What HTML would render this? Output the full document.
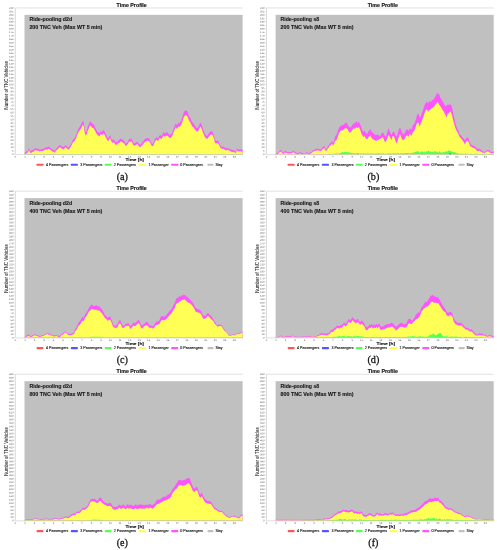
<!DOCTYPE html>
<html lang="en"><head><meta charset="utf-8"><title>Time Profile</title>
<style>html,body{margin:0;padding:0;background:#fff}svg{display:block}</style></head><body>
<svg width="497" height="550" viewBox="0 0 497 550">
<defs><filter id="soft" x="0" y="0" width="497" height="550" filterUnits="userSpaceOnUse"><feGaussianBlur stdDeviation="0.35"/></filter></defs>
<rect x="0" y="0" width="497" height="550" fill="#ffffff"/>
<g filter="url(#soft)">
<g>
<text x="131.70" y="6.50" font-family="Liberation Sans, sans-serif" font-size="5.2" font-weight="bold" fill="#1a1a1a" stroke="#1a1a1a" stroke-width="0.18" text-anchor="middle" textLength="30.2" lengthAdjust="spacingAndGlyphs">Time Profile</text>
<path d="M15.30,154.25 V7.95" fill="none" stroke="#cfcfcf" stroke-width="0.8"/>
<path d="M15.30,7.95 H242.60" fill="none" stroke="#dadada" stroke-width="0.8"/>
<path d="M15.30,154.55 H242.60" fill="none" stroke="#d0d0d0" stroke-width="0.7"/>
<rect x="24.50" y="14.85" width="218.10" height="139.40" fill="#c0c0c0"/>
<path d="M24.50,154.25 L24.59,153.04 L25.31,152.48 L26.04,151.83 L26.76,151.30 L27.49,151.23 L28.27,149.69 L29.06,148.21 L29.66,149.88 L30.27,151.23 L30.87,150.62 L31.47,150.61 L32.08,150.39 L32.68,149.83 L33.29,150.03 L33.89,149.18 L34.49,148.83 L35.10,148.24 L35.70,148.21 L36.30,148.73 L36.91,148.44 L37.51,148.93 L38.12,148.82 L38.72,148.96 L39.32,149.40 L39.93,149.66 L40.53,149.24 L41.14,149.50 L41.74,149.18 L42.34,148.67 L42.95,149.02 L43.55,148.69 L44.15,148.21 L44.76,148.30 L45.36,147.74 L45.97,147.00 L46.57,147.27 L47.17,146.92 L47.78,147.61 L48.38,146.53 L48.99,146.40 L49.59,147.27 L50.19,147.91 L50.80,148.21 L51.40,148.41 L52.00,149.51 L52.61,149.42 L53.21,150.05 L53.82,149.87 L54.42,150.63 L55.02,150.39 L55.63,149.17 L56.23,148.82 L56.84,148.00 L57.44,147.12 L58.04,147.00 L58.65,145.78 L59.25,145.49 L59.86,144.83 L60.46,145.69 L61.06,145.88 L61.67,146.40 L62.27,146.81 L62.87,146.80 L63.48,147.00 L64.08,146.59 L64.69,145.70 L65.29,145.19 L65.89,145.53 L66.50,146.32 L67.10,146.40 L67.71,146.76 L68.31,147.53 L68.91,147.61 L69.52,146.28 L70.12,145.41 L70.72,144.59 L71.33,143.44 L71.93,142.12 L72.54,140.36 L73.14,139.46 L73.74,138.95 L74.35,138.55 L75.00,137.34 L75.60,135.98 L76.21,134.93 L76.81,133.01 L77.42,131.30 L78.02,129.82 L78.62,128.28 L79.23,127.66 L79.83,126.47 L80.43,125.31 L81.04,124.66 L81.64,123.39 L82.25,121.64 L82.85,120.68 L83.70,122.25 L84.66,128.89 L85.63,132.27 L86.47,131.30 L87.08,128.97 L87.68,127.08 L88.29,125.71 L88.89,124.06 L89.49,122.50 L90.10,121.40 L90.70,121.64 L91.30,122.25 L91.91,123.38 L92.51,124.06 L93.12,123.95 L93.72,124.66 L94.32,125.59 L94.93,127.08 L95.53,128.37 L96.14,129.49 L96.74,130.47 L97.34,131.54 L97.95,132.20 L98.55,132.27 L99.15,132.93 L99.76,133.11 L100.36,131.68 L100.97,130.70 L101.57,131.64 L102.17,131.91 L102.78,130.73 L103.38,130.10 L103.99,130.58 L104.59,131.54 L105.19,132.78 L105.80,134.32 L106.40,135.11 L107.00,136.74 L107.61,137.93 L108.21,138.55 L108.82,137.18 L109.42,136.13 L110.27,134.93 L111.23,138.55 L111.84,139.59 L112.44,140.36 L113.04,139.48 L113.65,139.52 L114.25,140.25 L114.86,140.96 L115.46,141.89 L116.06,142.17 L116.67,142.30 L117.27,141.93 L117.87,140.68 L118.48,140.36 L119.08,139.91 L119.69,139.76 L120.29,138.82 L120.89,138.55 L121.50,139.15 L122.10,139.15 L122.71,139.46 L123.31,140.36 L123.91,140.70 L124.52,141.57 L125.12,142.62 L125.72,143.98 L126.33,142.91 L126.93,142.78 L127.54,142.34 L128.14,140.96 L128.74,139.72 L129.35,138.79 L130.00,139.15 L130.60,138.40 L131.21,138.55 L131.81,139.81 L132.42,140.36 L133.02,142.04 L133.62,142.78 L134.23,143.37 L134.83,143.38 L135.43,143.11 L136.04,142.17 L136.64,142.14 L137.25,141.57 L137.85,142.55 L138.45,143.38 L139.06,143.88 L139.66,144.59 L140.27,144.87 L140.87,144.35 L141.47,143.48 L142.08,142.78 L142.68,141.73 L143.29,141.57 L143.89,140.20 L144.49,139.76 L145.10,138.74 L145.70,138.55 L146.30,138.55 L146.91,138.31 L147.51,137.88 L148.12,137.95 L148.72,138.62 L149.32,138.55 L149.93,140.14 L150.53,140.96 L151.14,142.60 L151.74,143.38 L152.34,143.75 L152.95,143.98 L153.55,142.32 L154.15,140.96 L154.76,139.35 L155.36,138.55 L155.97,137.65 L156.57,136.74 L157.17,137.70 L157.78,138.55 L158.38,137.82 L158.99,136.13 L159.59,135.40 L160.19,134.93 L160.80,135.31 L161.40,136.13 L162.00,135.23 L162.61,133.72 L163.21,132.62 L163.82,132.27 L164.42,133.22 L165.02,133.72 L165.63,132.94 L166.23,132.51 L166.84,132.62 L167.44,132.27 L168.04,133.30 L168.65,133.72 L169.25,134.65 L169.86,134.93 L170.46,134.41 L171.06,134.32 L171.67,133.57 L172.27,132.51 L172.87,130.75 L173.48,128.89 L174.08,127.57 L174.69,125.87 L175.29,124.27 L175.89,123.45 L176.50,124.49 L177.10,125.26 L177.71,123.92 L178.31,122.85 L178.91,122.70 L179.52,123.45 L180.12,122.15 L180.72,121.04 L181.33,120.30 L181.93,118.62 L182.54,116.43 L183.14,114.39 L183.74,112.45 L184.35,111.38 L185.00,110.53 L185.60,110.75 L186.21,110.17 L186.81,111.03 L187.42,111.38 L188.02,113.58 L188.62,115.00 L189.23,116.59 L189.83,117.41 L190.43,118.37 L191.04,119.83 L191.64,121.30 L192.25,122.25 L192.85,122.60 L193.45,123.45 L194.06,124.38 L194.66,125.26 L195.27,125.94 L195.87,127.08 L196.47,127.73 L197.08,128.28 L197.68,127.61 L198.29,127.08 L198.89,126.00 L199.49,124.06 L200.10,123.32 L200.70,122.61 L201.30,124.02 L201.91,125.87 L202.51,127.73 L203.12,129.49 L203.72,131.01 L204.32,132.51 L204.93,133.61 L205.53,134.93 L206.14,135.29 L206.74,136.13 L207.34,135.58 L207.95,134.93 L208.55,133.70 L209.15,133.11 L209.76,132.30 L210.36,131.54 L210.97,131.17 L211.57,131.06 L212.17,131.73 L212.78,131.91 L213.38,134.08 L213.99,136.13 L214.59,138.61 L215.19,140.36 L215.80,140.82 L216.40,140.96 L217.00,140.73 L217.61,140.36 L218.21,140.92 L218.82,142.17 L219.42,143.32 L220.02,145.19 L220.63,145.49 L221.23,146.40 L221.84,146.71 L222.44,146.76 L223.04,147.08 L223.65,146.40 L224.25,146.96 L224.86,147.61 L225.46,148.00 L226.06,148.21 L226.67,148.35 L227.27,147.61 L227.87,148.29 L228.48,148.21 L229.08,148.75 L229.69,148.82 L230.29,149.19 L230.89,149.42 L231.50,149.40 L232.10,150.02 L232.71,150.29 L233.31,149.66 L233.91,150.10 L234.52,150.63 L235.12,151.28 L235.72,151.23 L236.33,150.14 L236.93,148.21 L237.54,149.31 L238.14,149.42 L238.74,149.07 L239.35,149.66 L239.95,149.39 L240.56,149.18 L241.16,149.74 L241.76,149.42 L242.60,149.42 L242.60,149.42 L242.60,154.25Z" fill="#ff55ff"/>
<path d="M24.50,154.25 L24.59,154.05 L25.31,153.92 L26.04,153.62 L26.76,153.22 L27.49,153.06 L28.27,151.61 L29.06,150.26 L29.66,151.66 L30.27,153.06 L30.87,152.85 L31.47,152.65 L32.08,152.28 L32.68,151.72 L33.29,152.07 L33.89,151.16 L34.49,150.59 L35.10,150.16 L35.70,150.26 L36.30,150.73 L36.91,150.59 L37.51,150.55 L38.12,150.82 L38.72,151.07 L39.32,151.22 L39.93,151.60 L40.53,151.10 L41.14,151.08 L41.74,151.16 L42.34,150.94 L42.95,150.96 L43.55,150.37 L44.15,150.26 L44.76,149.96 L45.36,149.50 L45.97,149.15 L46.57,149.63 L47.17,149.28 L47.78,149.71 L48.38,148.98 L48.99,148.59 L49.59,149.27 L50.19,149.83 L50.80,150.26 L51.40,150.41 L52.00,151.19 L52.61,151.38 L53.21,151.93 L53.82,151.65 L54.42,152.50 L55.02,152.45 L55.63,151.28 L56.23,150.82 L56.84,150.04 L57.44,149.16 L58.04,149.15 L58.65,147.90 L59.25,147.83 L59.86,147.14 L60.46,147.58 L61.06,148.12 L61.67,148.59 L62.27,149.02 L62.87,148.86 L63.48,149.15 L64.08,148.95 L64.69,147.66 L65.29,147.47 L65.89,147.47 L66.50,148.20 L67.10,148.59 L67.71,149.27 L68.31,149.37 L68.91,149.71 L69.52,148.84 L70.12,147.46 L70.72,146.91 L71.33,145.54 L71.93,144.77 L72.54,143.00 L73.14,142.00 L73.74,141.76 L74.35,141.33 L75.00,140.21 L75.60,138.95 L76.21,137.98 L76.81,135.94 L77.42,134.62 L78.02,133.40 L78.62,131.83 L79.23,131.14 L79.83,130.16 L80.43,129.24 L81.04,128.48 L81.64,127.46 L82.25,125.69 L82.85,124.79 L83.70,126.25 L84.66,132.39 L85.63,135.52 L86.47,134.62 L87.08,132.88 L87.68,130.71 L88.29,129.64 L88.89,127.92 L89.49,126.39 L90.10,125.46 L90.70,126.03 L91.30,126.25 L91.91,127.38 L92.51,127.92 L93.12,127.65 L93.72,128.48 L94.32,129.38 L94.93,130.71 L95.53,131.82 L96.14,132.95 L96.74,133.96 L97.34,134.85 L97.95,135.67 L98.55,135.52 L99.15,136.29 L99.76,136.30 L100.36,134.83 L100.97,134.07 L101.57,134.56 L102.17,135.18 L102.78,134.28 L103.38,133.51 L103.99,134.04 L104.59,134.85 L105.19,135.86 L105.80,137.42 L106.40,138.23 L107.00,139.65 L107.61,140.56 L108.21,141.33 L108.82,140.12 L109.42,139.09 L110.27,137.98 L111.23,141.33 L111.84,141.90 L112.44,143.00 L113.04,142.15 L113.65,142.22 L114.25,142.79 L114.86,143.56 L115.46,144.63 L116.06,144.68 L116.67,144.64 L117.27,144.46 L117.87,143.27 L118.48,143.00 L119.08,142.92 L119.69,142.44 L120.29,142.00 L120.89,141.33 L121.50,141.74 L122.10,141.89 L122.71,142.58 L123.31,143.00 L123.91,143.30 L124.52,144.12 L125.12,145.09 L125.72,146.35 L126.33,145.27 L126.93,145.24 L127.54,144.39 L128.14,143.56 L128.74,142.13 L129.35,141.55 L130.00,141.89 L130.60,141.40 L131.21,141.33 L131.81,142.05 L132.42,143.00 L133.02,144.65 L133.62,145.24 L134.23,145.47 L134.83,145.80 L135.43,145.36 L136.04,144.68 L136.64,144.48 L137.25,144.12 L137.85,144.79 L138.45,145.80 L139.06,145.96 L139.66,146.91 L140.27,147.31 L140.87,146.69 L141.47,145.69 L142.08,145.24 L142.68,144.68 L143.29,144.12 L143.89,143.05 L144.49,142.44 L145.10,141.97 L145.70,141.33 L146.30,141.24 L146.91,141.10 L147.51,140.57 L148.12,140.77 L148.72,141.23 L149.32,141.33 L149.93,142.53 L150.53,143.56 L151.14,144.65 L151.74,145.80 L152.34,146.07 L152.95,146.35 L153.55,145.16 L154.15,143.56 L154.76,142.16 L155.36,141.33 L155.97,140.33 L156.57,139.65 L157.17,140.22 L157.78,141.33 L158.38,140.80 L158.99,139.09 L159.59,138.29 L160.19,137.98 L160.80,138.70 L161.40,139.09 L162.00,138.34 L162.61,136.86 L163.21,135.89 L163.82,135.52 L164.42,136.49 L165.02,136.86 L165.63,136.31 L166.23,135.74 L166.84,135.63 L167.44,135.52 L168.04,136.48 L168.65,136.86 L169.25,137.76 L169.86,137.98 L170.46,137.84 L171.06,137.42 L171.67,136.74 L172.27,135.74 L172.87,134.16 L173.48,132.39 L174.08,131.22 L174.69,129.60 L175.29,128.31 L175.89,127.36 L176.50,128.43 L177.10,129.04 L177.71,127.74 L178.31,126.80 L178.91,126.52 L179.52,127.36 L180.12,125.98 L180.72,125.13 L181.33,124.29 L181.93,122.89 L182.54,121.03 L183.14,118.98 L183.74,117.24 L184.35,116.19 L185.00,115.41 L185.60,115.41 L186.21,115.07 L186.81,115.97 L187.42,116.19 L188.02,118.05 L188.62,119.54 L189.23,120.97 L189.83,121.78 L190.43,122.52 L191.04,124.01 L191.64,125.26 L192.25,126.25 L192.85,126.98 L193.45,127.36 L194.06,128.13 L194.66,129.04 L195.27,129.64 L195.87,130.71 L196.47,131.32 L197.08,131.83 L197.68,131.26 L198.29,130.71 L198.89,129.58 L199.49,127.92 L200.10,127.19 L200.70,126.58 L201.30,128.26 L201.91,129.60 L202.51,131.43 L203.12,132.95 L203.72,134.20 L204.32,135.74 L204.93,137.00 L205.53,137.98 L206.14,138.07 L206.74,139.09 L207.34,138.70 L207.95,137.98 L208.55,136.98 L209.15,136.30 L209.76,135.67 L210.36,134.85 L210.97,134.72 L211.57,134.40 L212.17,134.67 L212.78,135.18 L213.38,136.95 L213.99,139.09 L214.59,141.33 L215.19,143.00 L215.80,143.53 L216.40,143.56 L217.00,143.16 L217.61,143.00 L218.21,143.72 L218.82,144.68 L219.42,145.57 L220.02,147.47 L220.63,147.65 L221.23,148.59 L221.84,148.60 L222.44,148.92 L223.04,148.96 L223.65,148.59 L224.25,149.37 L224.86,149.71 L225.46,150.36 L226.06,150.26 L226.67,150.48 L227.27,149.71 L227.87,149.98 L228.48,150.26 L229.08,150.47 L229.69,150.82 L230.29,151.03 L230.89,151.38 L231.50,151.76 L232.10,151.94 L232.71,152.13 L233.31,151.60 L233.91,151.89 L234.52,152.50 L235.12,152.79 L235.72,153.06 L236.33,151.84 L236.93,150.26 L237.54,150.97 L238.14,151.38 L238.74,151.43 L239.35,151.60 L239.95,151.14 L240.56,151.16 L241.16,151.77 L241.76,151.38 L242.60,151.38 L242.60,151.38 L242.60,154.25Z" fill="#ffff55"/>
<path d="M24.50,154.25 L24.60,154.05 L242.60,154.05 L242.60,154.25Z" fill="#55ff55" opacity="0.8"/>
<text x="29.40" y="21.35" font-family="Liberation Sans, sans-serif" font-size="5.3" font-weight="bold" fill="#1a1a1a" stroke="#1a1a1a" stroke-width="0.14" textLength="42.8" lengthAdjust="spacingAndGlyphs">Ride-pooling d2d</text>
<text x="29.40" y="29.45" font-family="Liberation Sans, sans-serif" font-size="5.3" font-weight="bold" fill="#1a1a1a" stroke="#1a1a1a" stroke-width="0.14" textLength="73" lengthAdjust="spacingAndGlyphs">200 TNC Veh (Max WT 5 min)</text>
<g font-family="Liberation Sans, sans-serif" font-size="2.3" fill="#555" text-anchor="end">
<text transform="translate(13.50,155.05) rotate(0.03) scale(1.2,1)">0</text>
<text transform="translate(13.50,151.56) rotate(0.03) scale(1.2,1)">5</text>
<text transform="translate(13.50,148.08) rotate(0.03) scale(1.2,1)">10</text>
<text transform="translate(13.50,144.59) rotate(0.03) scale(1.2,1)">15</text>
<text transform="translate(13.50,141.11) rotate(0.03) scale(1.2,1)">20</text>
<text transform="translate(13.50,137.62) rotate(0.03) scale(1.2,1)">25</text>
<text transform="translate(13.50,134.14) rotate(0.03) scale(1.2,1)">30</text>
<text transform="translate(13.50,130.66) rotate(0.03) scale(1.2,1)">35</text>
<text transform="translate(13.50,127.17) rotate(0.03) scale(1.2,1)">40</text>
<text transform="translate(13.50,123.68) rotate(0.03) scale(1.2,1)">45</text>
<text transform="translate(13.50,120.20) rotate(0.03) scale(1.2,1)">50</text>
<text transform="translate(13.50,116.71) rotate(0.03) scale(1.2,1)">55</text>
<text transform="translate(13.50,113.23) rotate(0.03) scale(1.2,1)">60</text>
<text transform="translate(13.50,109.74) rotate(0.03) scale(1.2,1)">65</text>
<text transform="translate(13.50,106.26) rotate(0.03) scale(1.2,1)">70</text>
<text transform="translate(13.50,102.77) rotate(0.03) scale(1.2,1)">75</text>
<text transform="translate(13.50,99.29) rotate(0.03) scale(1.2,1)">80</text>
<text transform="translate(13.50,95.80) rotate(0.03) scale(1.2,1)">85</text>
<text transform="translate(13.50,92.32) rotate(0.03) scale(1.2,1)">90</text>
<text transform="translate(13.50,88.83) rotate(0.03) scale(1.2,1)">95</text>
<text transform="translate(13.50,85.35) rotate(0.03) scale(1.2,1)">100</text>
<text transform="translate(13.50,81.86) rotate(0.03) scale(1.2,1)">105</text>
<text transform="translate(13.50,78.38) rotate(0.03) scale(1.2,1)">110</text>
<text transform="translate(13.50,74.89) rotate(0.03) scale(1.2,1)">115</text>
<text transform="translate(13.50,71.41) rotate(0.03) scale(1.2,1)">120</text>
<text transform="translate(13.50,67.92) rotate(0.03) scale(1.2,1)">125</text>
<text transform="translate(13.50,64.44) rotate(0.03) scale(1.2,1)">130</text>
<text transform="translate(13.50,60.95) rotate(0.03) scale(1.2,1)">135</text>
<text transform="translate(13.50,57.47) rotate(0.03) scale(1.2,1)">140</text>
<text transform="translate(13.50,53.98) rotate(0.03) scale(1.2,1)">145</text>
<text transform="translate(13.50,50.50) rotate(0.03) scale(1.2,1)">150</text>
<text transform="translate(13.50,47.01) rotate(0.03) scale(1.2,1)">155</text>
<text transform="translate(13.50,43.53) rotate(0.03) scale(1.2,1)">160</text>
<text transform="translate(13.50,40.04) rotate(0.03) scale(1.2,1)">165</text>
<text transform="translate(13.50,36.56) rotate(0.03) scale(1.2,1)">170</text>
<text transform="translate(13.50,33.07) rotate(0.03) scale(1.2,1)">175</text>
<text transform="translate(13.50,29.59) rotate(0.03) scale(1.2,1)">180</text>
<text transform="translate(13.50,26.10) rotate(0.03) scale(1.2,1)">185</text>
<text transform="translate(13.50,22.62) rotate(0.03) scale(1.2,1)">190</text>
<text transform="translate(13.50,19.13) rotate(0.03) scale(1.2,1)">195</text>
<text transform="translate(13.50,15.65) rotate(0.03) scale(1.2,1)">200</text>
<text transform="translate(13.50,12.16) rotate(0.03) scale(1.2,1)">205</text>
<text transform="translate(13.50,8.68) rotate(0.03) scale(1.2,1)">210</text>
</g>
<path d="M15.30,154.25h-0.9M15.30,150.76h-0.9M15.30,147.28h-0.9M15.30,143.79h-0.9M15.30,140.31h-0.9M15.30,136.82h-0.9M15.30,133.34h-0.9M15.30,129.85h-0.9M15.30,126.37h-0.9M15.30,122.88h-0.9M15.30,119.40h-0.9M15.30,115.91h-0.9M15.30,112.43h-0.9M15.30,108.94h-0.9M15.30,105.46h-0.9M15.30,101.97h-0.9M15.30,98.49h-0.9M15.30,95.00h-0.9M15.30,91.52h-0.9M15.30,88.03h-0.9M15.30,84.55h-0.9M15.30,81.06h-0.9M15.30,77.58h-0.9M15.30,74.09h-0.9M15.30,70.61h-0.9M15.30,67.12h-0.9M15.30,63.64h-0.9M15.30,60.15h-0.9M15.30,56.67h-0.9M15.30,53.18h-0.9M15.30,49.70h-0.9M15.30,46.21h-0.9M15.30,42.73h-0.9M15.30,39.24h-0.9M15.30,35.76h-0.9M15.30,32.27h-0.9M15.30,28.79h-0.9M15.30,25.30h-0.9M15.30,21.82h-0.9M15.30,18.33h-0.9M15.30,14.85h-0.9M15.30,11.36h-0.9M15.30,7.88h-0.9" stroke="#c8c8c8" stroke-width="0.35" fill="none"/>
<text transform="translate(7.75,85.25) rotate(-90)" font-family="Liberation Sans, sans-serif" font-size="5.1" fill="#222" stroke="#222" stroke-width="0.08" text-anchor="middle" textLength="48.5" lengthAdjust="spacingAndGlyphs">Number of TNC Vehicles</text>
<g font-family="Liberation Sans, sans-serif" font-size="2.2" fill="#555" text-anchor="middle">
<text transform="translate(15.40,157.55) rotate(0.03) scale(1.3,1)">0</text>
<text transform="translate(24.92,157.55) rotate(0.03) scale(1.3,1)">1</text>
<text transform="translate(34.44,157.55) rotate(0.03) scale(1.3,1)">2</text>
<text transform="translate(43.96,157.55) rotate(0.03) scale(1.3,1)">3</text>
<text transform="translate(53.48,157.55) rotate(0.03) scale(1.3,1)">4</text>
<text transform="translate(63.00,157.55) rotate(0.03) scale(1.3,1)">5</text>
<text transform="translate(72.52,157.55) rotate(0.03) scale(1.3,1)">6</text>
<text transform="translate(82.04,157.55) rotate(0.03) scale(1.3,1)">7</text>
<text transform="translate(91.56,157.55) rotate(0.03) scale(1.3,1)">8</text>
<text transform="translate(101.08,157.55) rotate(0.03) scale(1.3,1)">9</text>
<text transform="translate(110.60,157.55) rotate(0.03) scale(1.3,1)">10</text>
<text transform="translate(120.12,157.55) rotate(0.03) scale(1.3,1)">11</text>
<text transform="translate(129.64,157.55) rotate(0.03) scale(1.3,1)">12</text>
<text transform="translate(139.16,157.55) rotate(0.03) scale(1.3,1)">13</text>
<text transform="translate(148.68,157.55) rotate(0.03) scale(1.3,1)">14</text>
<text transform="translate(158.20,157.55) rotate(0.03) scale(1.3,1)">15</text>
<text transform="translate(167.72,157.55) rotate(0.03) scale(1.3,1)">16</text>
<text transform="translate(177.24,157.55) rotate(0.03) scale(1.3,1)">17</text>
<text transform="translate(186.76,157.55) rotate(0.03) scale(1.3,1)">18</text>
<text transform="translate(196.28,157.55) rotate(0.03) scale(1.3,1)">19</text>
<text transform="translate(205.80,157.55) rotate(0.03) scale(1.3,1)">20</text>
<text transform="translate(215.32,157.55) rotate(0.03) scale(1.3,1)">21</text>
<text transform="translate(224.84,157.55) rotate(0.03) scale(1.3,1)">22</text>
<text transform="translate(234.36,157.55) rotate(0.03) scale(1.3,1)">23</text>
</g>
<path d="M15.02,154.55v0.8M24.50,154.55v0.8M33.98,154.55v0.8M43.47,154.55v0.8M52.95,154.55v0.8M62.43,154.55v0.8M71.91,154.55v0.8M81.40,154.55v0.8M90.88,154.55v0.8M100.36,154.55v0.8M109.84,154.55v0.8M119.33,154.55v0.8M128.81,154.55v0.8M138.29,154.55v0.8M147.77,154.55v0.8M157.26,154.55v0.8M166.74,154.55v0.8M176.22,154.55v0.8M185.70,154.55v0.8M195.19,154.55v0.8M204.67,154.55v0.8M214.15,154.55v0.8M223.63,154.55v0.8M233.12,154.55v0.8M242.60,154.55v0.8" stroke="#c8c8c8" stroke-width="0.35" fill="none"/>
<text x="134.70" y="161.45" font-family="Liberation Sans, sans-serif" font-size="4.2" font-weight="bold" fill="#111" stroke="#111" stroke-width="0.12" text-anchor="middle" textLength="18.4" lengthAdjust="spacingAndGlyphs">Time [h]</text>
<rect x="36.60" y="163.65" width="6.90" height="2.2" rx="0.7" fill="#ff5555"/>
<text x="46.00" y="166.00" font-family="Liberation Sans, sans-serif" font-size="3.5" fill="#111" stroke="#111" stroke-width="0.12" textLength="22.2" lengthAdjust="spacingAndGlyphs">4 Passengers</text>
<rect x="70.80" y="163.65" width="7.10" height="2.2" rx="0.7" fill="#5555ff"/>
<text x="80.30" y="166.00" font-family="Liberation Sans, sans-serif" font-size="3.5" fill="#111" stroke="#111" stroke-width="0.12" textLength="22.1" lengthAdjust="spacingAndGlyphs">3 Passengers</text>
<rect x="104.80" y="163.65" width="6.70" height="2.2" rx="0.7" fill="#55ff55"/>
<text x="113.70" y="166.00" font-family="Liberation Sans, sans-serif" font-size="3.5" fill="#111" stroke="#111" stroke-width="0.12" textLength="22.2" lengthAdjust="spacingAndGlyphs">2 Passengers</text>
<rect x="138.60" y="163.65" width="7.40" height="2.2" rx="0.7" fill="#ffff55"/>
<text x="148.50" y="166.00" font-family="Liberation Sans, sans-serif" font-size="3.5" fill="#111" stroke="#111" stroke-width="0.12" textLength="20.1" lengthAdjust="spacingAndGlyphs">1 Passenger</text>
<rect x="171.20" y="163.65" width="7.10" height="2.2" rx="0.7" fill="#ff55ff"/>
<text x="180.30" y="166.00" font-family="Liberation Sans, sans-serif" font-size="3.5" fill="#111" stroke="#111" stroke-width="0.12" textLength="22.5" lengthAdjust="spacingAndGlyphs">0 Passengers</text>
<rect x="207.50" y="163.65" width="6.00" height="2.2" rx="0.7" fill="#c0c0c0"/>
<text x="215.50" y="166.00" font-family="Liberation Sans, sans-serif" font-size="3.5" fill="#111" stroke="#111" stroke-width="0.12" textLength="7.0" lengthAdjust="spacingAndGlyphs">Stay</text>
<text font-family="Liberation Serif, serif" font-size="11.3" fill="#111" stroke="#111" stroke-width="0.28" text-anchor="middle" transform="translate(122.30,179.65) scale(0.9,1)">(a)</text>
</g>
<g>
<text x="382.80" y="6.50" font-family="Liberation Sans, sans-serif" font-size="5.2" font-weight="bold" fill="#1a1a1a" stroke="#1a1a1a" stroke-width="0.18" text-anchor="middle" textLength="30.2" lengthAdjust="spacingAndGlyphs">Time Profile</text>
<path d="M266.40,154.25 V7.95" fill="none" stroke="#cfcfcf" stroke-width="0.8"/>
<path d="M266.40,7.95 H493.70" fill="none" stroke="#dadada" stroke-width="0.8"/>
<path d="M266.40,154.55 H493.70" fill="none" stroke="#d0d0d0" stroke-width="0.7"/>
<rect x="275.60" y="14.85" width="218.10" height="139.40" fill="#c0c0c0"/>
<path d="M275.60,154.25 L275.92,153.55 L276.53,153.41 L277.14,153.15 L277.75,152.84 L278.45,152.27 L279.15,151.43 L279.86,150.68 L280.56,150.02 L281.27,150.35 L281.97,151.43 L282.68,152.15 L283.38,152.84 L284.08,151.76 L284.79,151.01 L285.49,151.33 L286.20,151.43 L286.90,151.64 L287.61,152.14 L288.31,152.28 L289.01,152.42 L289.72,152.11 L290.42,152.14 L291.13,152.07 L291.83,151.86 L292.54,151.14 L293.24,150.73 L293.94,150.94 L294.65,151.86 L295.35,152.23 L296.06,152.42 L296.76,152.91 L297.46,153.26 L298.17,153.14 L298.87,152.84 L299.58,152.28 L300.28,152.14 L300.99,152.36 L301.69,152.84 L302.39,153.24 L303.10,153.55 L303.80,153.94 L304.51,154.25 L305.21,153.55 L305.92,152.84 L306.90,151.86 L307.46,152.64 L308.03,153.55 L308.73,153.30 L309.44,152.84 L310.14,152.52 L310.85,152.14 L311.55,151.66 L312.25,151.01 L312.96,150.13 L313.66,150.02 L314.37,149.99 L315.07,149.32 L315.77,148.87 L316.48,149.04 L317.18,149.04 L317.89,148.62 L318.59,148.75 L319.30,149.04 L320.00,149.64 L320.70,149.32 L321.41,148.94 L322.11,147.91 L322.82,146.84 L323.52,146.50 L324.23,145.80 L325.21,148.62 L325.77,148.65 L326.34,149.32 L327.04,148.30 L327.75,146.50 L328.45,145.78 L329.15,144.39 L329.86,143.51 L330.56,142.98 L331.27,142.24 L331.97,140.87 L332.68,141.89 L333.38,142.98 L334.19,140.21 L335.00,136.64 L335.70,135.53 L336.41,135.24 L337.11,133.02 L337.82,131.01 L338.52,129.01 L339.23,127.49 L339.93,126.51 L340.63,126.08 L341.34,125.26 L342.04,125.38 L342.75,125.31 L343.45,124.67 L344.15,124.20 L344.86,123.26 L345.56,123.14 L346.27,122.56 L346.97,123.36 L347.68,124.67 L348.38,126.06 L349.08,126.79 L349.79,127.49 L350.49,127.49 L351.20,126.86 L351.90,125.38 L352.61,124.70 L353.31,123.26 L354.01,123.19 L354.72,123.97 L355.42,122.51 L356.13,121.15 L356.83,121.78 L357.54,123.26 L358.24,122.33 L358.94,121.43 L359.65,123.14 L360.35,124.67 L361.06,126.39 L361.76,128.90 L362.46,130.47 L363.17,131.71 L363.87,131.23 L364.58,130.31 L365.28,132.13 L365.99,133.12 L366.69,133.45 L367.39,133.83 L368.10,132.08 L368.80,131.01 L369.51,130.26 L370.21,128.90 L370.92,129.92 L371.62,131.71 L372.32,132.37 L373.03,133.12 L373.73,133.39 L374.44,134.53 L375.14,134.56 L375.85,135.24 L376.55,134.70 L377.25,134.53 L377.96,135.26 L378.66,135.24 L379.37,135.80 L380.07,135.94 L380.77,135.16 L381.48,133.83 L382.18,132.75 L382.89,132.42 L383.59,133.43 L384.30,135.24 L385.00,136.04 L385.70,137.35 L386.41,135.08 L387.11,132.42 L387.82,130.42 L388.52,128.19 L389.23,129.82 L389.93,131.71 L390.63,133.43 L391.34,135.24 L392.04,133.50 L392.75,132.42 L393.45,131.61 L394.15,131.71 L394.86,133.53 L395.56,135.24 L396.27,135.73 L396.97,136.64 L397.68,133.58 L398.38,131.01 L399.19,128.86 L400.00,127.49 L400.70,128.85 L401.41,131.01 L402.11,132.46 L402.82,134.53 L403.52,133.73 L404.23,133.83 L404.93,132.52 L405.63,131.01 L406.34,129.64 L407.04,128.90 L407.75,130.03 L408.45,131.01 L409.15,129.62 L409.86,128.19 L410.56,128.89 L411.27,130.31 L411.97,127.71 L412.68,126.08 L413.38,124.58 L414.08,123.97 L414.79,122.67 L415.49,120.45 L416.20,118.17 L416.90,115.52 L417.61,114.47 L418.31,113.40 L419.01,115.11 L419.72,117.63 L420.42,116.77 L421.13,115.52 L421.83,113.29 L422.54,111.29 L423.24,109.40 L423.94,107.07 L424.65,104.98 L425.35,103.55 L426.06,102.78 L426.76,101.43 L427.46,102.21 L428.17,103.55 L428.87,102.08 L429.58,100.73 L430.28,101.52 L430.99,102.14 L431.69,100.62 L432.39,100.02 L433.10,99.66 L433.80,99.32 L434.51,97.72 L435.21,96.50 L435.92,94.95 L436.62,94.39 L437.32,93.25 L438.03,92.98 L438.73,94.35 L439.44,95.10 L440.14,97.10 L440.85,98.62 L441.55,99.22 L442.25,100.73 L442.96,101.92 L443.66,102.84 L444.37,104.40 L445.07,105.66 L445.77,105.87 L446.48,106.36 L447.18,104.89 L447.89,104.25 L448.59,104.82 L449.30,104.95 L450.00,104.46 L450.70,104.25 L451.41,105.90 L452.11,107.77 L452.82,111.58 L453.52,114.81 L454.23,117.79 L454.93,121.15 L455.63,123.96 L456.34,126.08 L457.04,128.10 L457.75,129.60 L458.45,130.98 L459.15,133.12 L459.86,134.63 L460.56,135.24 L461.27,135.56 L461.97,136.64 L462.68,137.75 L463.38,138.05 L464.08,139.20 L464.79,140.17 L465.49,139.60 L466.20,138.05 L466.90,137.91 L467.61,137.35 L468.31,138.23 L469.01,139.46 L470.00,142.98 L470.66,143.69 L471.37,144.71 L472.07,145.10 L472.77,145.69 L473.48,145.80 L474.18,145.90 L474.89,146.50 L475.59,146.74 L476.30,147.91 L477.00,148.67 L477.70,148.62 L478.41,148.68 L479.11,148.62 L479.82,149.15 L480.52,149.32 L481.23,150.03 L481.93,150.73 L482.63,151.30 L483.34,151.86 L484.04,151.75 L484.75,152.14 L485.45,151.14 L486.15,150.73 L486.86,150.11 L487.56,150.02 L488.27,149.92 L488.97,150.02 L489.68,150.72 L490.38,151.43 L491.08,151.73 L491.79,152.14 L492.49,151.85 L493.20,151.43 L493.70,151.43 L493.70,154.25Z" fill="#ff55ff"/>
<path d="M275.60,154.25 L275.92,154.25 L276.53,154.25 L277.14,154.16 L277.75,154.02 L278.45,153.36 L279.15,152.80 L279.86,152.00 L280.56,151.57 L281.27,151.96 L281.97,152.80 L282.68,153.56 L283.38,154.02 L284.08,153.30 L284.79,152.43 L285.49,152.85 L286.20,152.80 L286.90,153.04 L287.61,153.41 L288.31,153.52 L289.01,153.66 L289.72,153.27 L290.42,153.41 L291.13,153.18 L291.83,153.17 L292.54,152.48 L293.24,152.19 L293.94,152.62 L294.65,153.17 L295.35,153.48 L296.06,153.66 L296.76,154.05 L297.46,154.25 L298.17,154.10 L298.87,154.02 L299.58,153.48 L300.28,153.41 L300.99,153.67 L301.69,154.02 L302.39,154.19 L303.10,154.25 L303.80,154.25 L304.51,154.25 L305.21,154.15 L305.92,154.02 L306.90,153.17 L307.46,153.66 L308.03,154.25 L308.73,154.14 L309.44,154.02 L310.14,153.74 L310.85,153.41 L311.55,153.04 L312.25,152.43 L312.96,151.46 L313.66,151.57 L314.37,151.16 L315.07,150.96 L315.77,150.43 L316.48,150.72 L317.18,150.38 L317.89,150.35 L318.59,150.51 L319.30,150.72 L320.00,151.11 L320.70,150.96 L321.41,150.69 L322.11,149.74 L322.82,149.01 L323.52,148.51 L324.23,147.90 L325.21,150.35 L325.77,150.56 L326.34,150.96 L327.04,150.04 L327.75,148.51 L328.45,148.03 L329.15,146.67 L329.86,145.82 L330.56,145.45 L331.27,144.56 L331.97,143.61 L332.68,144.79 L333.38,145.45 L334.19,143.61 L335.00,141.57 L335.70,140.40 L336.41,140.17 L337.11,138.65 L337.82,136.64 L338.52,134.69 L339.23,132.42 L339.93,131.83 L340.63,131.01 L341.34,130.39 L342.04,130.31 L342.75,130.41 L343.45,129.60 L344.15,128.90 L344.86,128.19 L345.56,128.49 L346.27,127.91 L346.97,128.84 L347.68,129.60 L348.38,131.06 L349.08,131.71 L349.79,132.46 L350.49,132.42 L351.20,131.96 L351.90,130.31 L352.61,129.55 L353.31,128.19 L354.01,128.06 L354.72,128.90 L355.42,128.19 L356.13,127.07 L356.83,127.53 L357.54,128.19 L358.24,127.43 L358.94,126.79 L359.65,128.79 L360.35,130.31 L361.06,132.45 L361.76,134.53 L362.46,135.55 L363.17,136.64 L363.87,136.76 L364.58,135.94 L365.28,137.44 L365.99,138.76 L366.69,139.05 L367.39,139.18 L368.10,137.60 L368.80,136.64 L369.51,136.33 L370.21,135.24 L370.92,136.48 L371.62,138.05 L372.32,138.82 L373.03,139.46 L373.73,139.47 L374.44,140.17 L375.14,140.39 L375.85,140.87 L376.55,140.70 L377.25,140.17 L377.96,140.18 L378.66,139.46 L379.37,138.92 L380.07,138.76 L380.77,138.53 L381.48,138.05 L382.18,137.45 L382.89,137.35 L383.59,138.72 L384.30,140.87 L385.00,141.67 L385.70,142.28 L386.41,140.38 L387.11,138.76 L387.82,136.88 L388.52,135.24 L389.23,135.87 L389.93,137.35 L390.63,138.41 L391.34,140.17 L392.04,137.71 L392.75,135.94 L393.45,135.89 L394.15,136.64 L394.86,138.92 L395.56,141.57 L396.27,142.46 L396.97,143.69 L397.68,140.70 L398.38,138.05 L399.19,135.68 L400.00,133.83 L400.70,135.74 L401.41,138.05 L402.11,139.25 L402.82,140.17 L403.52,139.80 L404.23,139.46 L404.93,138.27 L405.63,136.64 L406.34,135.63 L407.04,135.24 L407.75,136.28 L408.45,136.64 L409.15,134.99 L409.86,133.83 L410.56,134.79 L411.27,135.94 L411.97,134.04 L412.68,132.42 L413.38,131.72 L414.08,131.01 L414.79,129.45 L415.49,127.49 L416.20,125.41 L416.90,123.26 L417.61,123.12 L418.31,122.56 L419.01,124.77 L419.72,126.79 L420.42,124.74 L421.13,122.56 L421.83,120.85 L422.54,119.04 L423.24,117.28 L423.94,114.81 L424.65,112.93 L425.35,111.29 L426.06,110.14 L426.76,109.18 L427.46,110.15 L428.17,112.00 L428.87,110.56 L429.58,109.88 L430.28,109.30 L430.99,109.18 L431.69,108.13 L432.39,107.77 L433.10,107.33 L433.80,107.07 L434.51,106.07 L435.21,104.95 L435.92,103.79 L436.62,103.55 L437.32,102.33 L438.03,102.14 L438.73,104.06 L439.44,104.95 L440.14,105.95 L440.85,107.07 L441.55,108.04 L442.25,109.18 L442.96,110.66 L443.66,111.29 L444.37,113.04 L445.07,114.11 L445.77,115.70 L446.48,117.63 L447.18,115.54 L447.89,113.40 L448.59,113.37 L449.30,112.70 L450.00,111.95 L450.70,111.29 L451.41,113.68 L452.11,115.52 L452.82,118.84 L453.52,121.86 L454.23,124.01 L454.93,126.79 L455.63,128.73 L456.34,130.31 L457.04,131.76 L457.75,133.12 L458.45,134.53 L459.15,135.94 L459.86,137.39 L460.56,138.05 L461.27,138.86 L461.97,139.46 L462.68,140.84 L463.38,141.57 L464.08,142.78 L464.79,144.39 L465.49,142.97 L466.20,141.57 L466.90,140.66 L467.61,140.17 L468.31,141.71 L469.01,142.98 L470.00,145.80 L470.66,146.50 L471.37,146.71 L472.07,147.21 L472.77,147.84 L473.48,147.91 L474.18,148.25 L474.89,148.62 L475.59,149.30 L476.30,150.02 L477.00,150.65 L477.70,151.43 L478.41,150.93 L479.11,150.73 L479.82,150.99 L480.52,151.43 L481.23,152.05 L481.93,152.14 L482.63,152.46 L483.34,152.84 L484.04,152.75 L484.75,153.26 L485.45,152.42 L486.15,152.14 L486.86,151.58 L487.56,151.43 L488.27,151.42 L488.97,151.86 L489.68,152.40 L490.38,152.84 L491.08,153.22 L491.79,153.55 L492.49,153.25 L493.20,152.84 L493.70,152.84 L493.70,154.25Z" fill="#ffff55"/>
<path d="M275.60,154.25 L276.00,154.25 L276.80,154.25 L277.61,154.25 L278.41,154.25 L279.21,154.25 L280.02,154.25 L280.82,154.25 L281.62,154.25 L282.43,154.25 L283.23,154.25 L284.03,154.25 L284.84,154.25 L285.64,154.25 L286.44,154.25 L287.25,154.25 L288.05,154.25 L288.85,154.25 L289.66,154.25 L290.46,154.25 L291.26,154.25 L292.07,154.25 L292.87,154.25 L293.67,154.25 L294.48,154.25 L295.28,154.25 L296.08,154.25 L296.89,154.25 L297.69,154.25 L298.49,154.25 L299.30,154.25 L300.10,154.25 L300.90,154.25 L301.70,154.25 L302.51,154.25 L303.31,154.25 L304.11,154.25 L304.92,154.25 L305.72,154.25 L306.52,154.25 L307.33,154.25 L308.13,154.25 L308.93,154.25 L309.74,154.25 L310.54,154.25 L311.34,154.25 L312.15,154.25 L312.95,154.25 L313.75,154.25 L314.56,154.25 L315.36,154.25 L316.16,154.25 L316.97,154.25 L317.77,154.25 L318.57,154.25 L319.38,154.25 L320.18,154.25 L320.98,154.25 L321.79,154.25 L322.59,154.25 L323.39,154.25 L324.20,154.25 L325.00,154.25 L325.83,154.20 L326.67,154.16 L327.50,154.15 L328.33,154.10 L329.17,154.09 L330.00,154.02 L330.83,153.96 L331.67,153.84 L332.50,154.01 L333.33,153.67 L334.17,153.63 L335.00,153.75 L335.83,153.61 L336.67,153.49 L337.50,153.71 L338.33,153.53 L339.17,153.61 L340.00,153.05 L341.00,153.15 L342.00,152.05 L342.86,151.64 L343.71,152.69 L344.57,151.77 L345.43,151.64 L346.29,152.35 L347.14,151.89 L348.00,152.25 L348.80,152.30 L349.60,152.48 L350.40,152.74 L351.20,152.89 L352.00,153.25 L352.82,153.57 L353.64,152.83 L354.45,153.54 L355.27,153.60 L356.09,153.52 L356.91,153.03 L357.73,152.91 L358.55,152.91 L359.36,153.63 L360.18,153.44 L361.00,153.14 L361.82,153.67 L362.64,153.44 L363.45,153.33 L364.27,153.56 L365.09,153.55 L365.91,153.42 L366.73,153.69 L367.55,153.13 L368.36,153.45 L369.18,153.68 L370.00,153.45 L370.81,153.45 L371.62,153.55 L372.43,153.35 L373.24,153.76 L374.05,153.55 L374.86,153.76 L375.68,153.38 L376.49,153.46 L377.30,153.24 L378.11,153.35 L378.92,153.44 L379.73,153.36 L380.54,153.58 L381.35,153.43 L382.16,153.53 L382.97,153.48 L383.78,153.51 L384.59,153.81 L385.41,153.67 L386.22,153.40 L387.03,153.72 L387.84,153.54 L388.65,153.23 L389.46,153.46 L390.27,153.25 L391.08,153.57 L391.89,153.81 L392.70,153.49 L393.51,153.26 L394.32,153.46 L395.14,153.55 L395.95,153.19 L396.76,153.55 L397.57,153.14 L398.38,153.29 L399.19,153.67 L400.00,153.45 L400.80,153.32 L401.60,153.28 L402.40,153.30 L403.20,153.19 L404.00,153.41 L404.80,153.08 L405.60,153.18 L406.40,152.98 L407.20,152.97 L408.00,153.08 L408.80,153.13 L409.60,153.41 L410.40,153.52 L411.20,153.09 L412.00,153.05 L413.00,152.69 L414.00,152.54 L415.00,151.95 L415.88,151.97 L416.75,151.24 L417.62,151.25 L418.50,151.20 L419.38,152.75 L420.25,152.60 L421.12,151.32 L422.00,152.05 L422.80,151.27 L423.60,152.48 L424.40,151.12 L425.20,152.74 L426.00,151.81 L426.80,151.12 L427.60,151.62 L428.40,150.29 L429.20,151.95 L430.00,151.05 L431.00,152.26 L432.00,151.80 L433.00,151.95 L433.80,152.31 L434.60,151.11 L435.40,151.07 L436.20,152.39 L437.00,151.25 L437.80,152.24 L438.60,152.63 L439.40,150.69 L440.20,152.44 L441.00,152.05 L441.80,152.66 L442.60,152.39 L443.40,152.07 L444.20,152.61 L445.00,151.85 L445.83,151.25 L446.67,151.57 L447.50,151.85 L448.33,150.09 L449.17,151.05 L450.00,151.05 L451.00,150.74 L452.00,151.95 L453.00,151.75 L454.00,152.35 L455.00,151.99 L456.00,153.05 L456.80,153.51 L457.60,152.95 L458.40,153.62 L459.20,153.89 L460.00,153.75 L460.81,153.80 L461.63,153.62 L462.44,153.73 L463.26,153.80 L464.07,153.98 L464.89,153.78 L465.70,153.60 L466.52,153.68 L467.33,153.68 L468.15,153.99 L468.96,153.95 L469.78,153.91 L470.59,153.75 L471.40,153.83 L472.22,153.93 L473.03,154.02 L473.85,153.94 L474.66,153.83 L475.48,153.85 L476.29,153.76 L477.11,153.87 L477.92,153.85 L478.74,154.07 L479.55,153.98 L480.37,154.04 L481.18,154.00 L482.00,153.87 L482.81,153.95 L483.62,153.90 L484.44,153.87 L485.25,154.00 L486.07,154.01 L486.88,154.10 L487.70,153.98 L488.51,153.98 L489.33,153.91 L490.14,154.06 L490.96,154.08 L491.77,153.94 L492.59,154.13 L493.40,154.05 L493.70,154.25Z" fill="#55ff55"/>
<rect x="449.2" y="153.35" width="1.6" height="0.9" fill="#5555ff"/>
<text x="280.50" y="21.35" font-family="Liberation Sans, sans-serif" font-size="5.3" font-weight="bold" fill="#1a1a1a" stroke="#1a1a1a" stroke-width="0.14" textLength="38.7" lengthAdjust="spacingAndGlyphs">Ride-pooling s8</text>
<text x="280.50" y="29.45" font-family="Liberation Sans, sans-serif" font-size="5.3" font-weight="bold" fill="#1a1a1a" stroke="#1a1a1a" stroke-width="0.14" textLength="73" lengthAdjust="spacingAndGlyphs">200 TNC Veh (Max WT 5 min)</text>
<g font-family="Liberation Sans, sans-serif" font-size="2.3" fill="#555" text-anchor="end">
<text transform="translate(264.60,155.05) rotate(0.03) scale(1.2,1)">0</text>
<text transform="translate(264.60,151.56) rotate(0.03) scale(1.2,1)">5</text>
<text transform="translate(264.60,148.08) rotate(0.03) scale(1.2,1)">10</text>
<text transform="translate(264.60,144.59) rotate(0.03) scale(1.2,1)">15</text>
<text transform="translate(264.60,141.11) rotate(0.03) scale(1.2,1)">20</text>
<text transform="translate(264.60,137.62) rotate(0.03) scale(1.2,1)">25</text>
<text transform="translate(264.60,134.14) rotate(0.03) scale(1.2,1)">30</text>
<text transform="translate(264.60,130.66) rotate(0.03) scale(1.2,1)">35</text>
<text transform="translate(264.60,127.17) rotate(0.03) scale(1.2,1)">40</text>
<text transform="translate(264.60,123.68) rotate(0.03) scale(1.2,1)">45</text>
<text transform="translate(264.60,120.20) rotate(0.03) scale(1.2,1)">50</text>
<text transform="translate(264.60,116.71) rotate(0.03) scale(1.2,1)">55</text>
<text transform="translate(264.60,113.23) rotate(0.03) scale(1.2,1)">60</text>
<text transform="translate(264.60,109.74) rotate(0.03) scale(1.2,1)">65</text>
<text transform="translate(264.60,106.26) rotate(0.03) scale(1.2,1)">70</text>
<text transform="translate(264.60,102.77) rotate(0.03) scale(1.2,1)">75</text>
<text transform="translate(264.60,99.29) rotate(0.03) scale(1.2,1)">80</text>
<text transform="translate(264.60,95.80) rotate(0.03) scale(1.2,1)">85</text>
<text transform="translate(264.60,92.32) rotate(0.03) scale(1.2,1)">90</text>
<text transform="translate(264.60,88.83) rotate(0.03) scale(1.2,1)">95</text>
<text transform="translate(264.60,85.35) rotate(0.03) scale(1.2,1)">100</text>
<text transform="translate(264.60,81.86) rotate(0.03) scale(1.2,1)">105</text>
<text transform="translate(264.60,78.38) rotate(0.03) scale(1.2,1)">110</text>
<text transform="translate(264.60,74.89) rotate(0.03) scale(1.2,1)">115</text>
<text transform="translate(264.60,71.41) rotate(0.03) scale(1.2,1)">120</text>
<text transform="translate(264.60,67.92) rotate(0.03) scale(1.2,1)">125</text>
<text transform="translate(264.60,64.44) rotate(0.03) scale(1.2,1)">130</text>
<text transform="translate(264.60,60.95) rotate(0.03) scale(1.2,1)">135</text>
<text transform="translate(264.60,57.47) rotate(0.03) scale(1.2,1)">140</text>
<text transform="translate(264.60,53.98) rotate(0.03) scale(1.2,1)">145</text>
<text transform="translate(264.60,50.50) rotate(0.03) scale(1.2,1)">150</text>
<text transform="translate(264.60,47.01) rotate(0.03) scale(1.2,1)">155</text>
<text transform="translate(264.60,43.53) rotate(0.03) scale(1.2,1)">160</text>
<text transform="translate(264.60,40.04) rotate(0.03) scale(1.2,1)">165</text>
<text transform="translate(264.60,36.56) rotate(0.03) scale(1.2,1)">170</text>
<text transform="translate(264.60,33.07) rotate(0.03) scale(1.2,1)">175</text>
<text transform="translate(264.60,29.59) rotate(0.03) scale(1.2,1)">180</text>
<text transform="translate(264.60,26.10) rotate(0.03) scale(1.2,1)">185</text>
<text transform="translate(264.60,22.62) rotate(0.03) scale(1.2,1)">190</text>
<text transform="translate(264.60,19.13) rotate(0.03) scale(1.2,1)">195</text>
<text transform="translate(264.60,15.65) rotate(0.03) scale(1.2,1)">200</text>
<text transform="translate(264.60,12.16) rotate(0.03) scale(1.2,1)">205</text>
<text transform="translate(264.60,8.68) rotate(0.03) scale(1.2,1)">210</text>
</g>
<path d="M266.40,154.25h-0.9M266.40,150.76h-0.9M266.40,147.28h-0.9M266.40,143.79h-0.9M266.40,140.31h-0.9M266.40,136.82h-0.9M266.40,133.34h-0.9M266.40,129.85h-0.9M266.40,126.37h-0.9M266.40,122.88h-0.9M266.40,119.40h-0.9M266.40,115.91h-0.9M266.40,112.43h-0.9M266.40,108.94h-0.9M266.40,105.46h-0.9M266.40,101.97h-0.9M266.40,98.49h-0.9M266.40,95.00h-0.9M266.40,91.52h-0.9M266.40,88.03h-0.9M266.40,84.55h-0.9M266.40,81.06h-0.9M266.40,77.58h-0.9M266.40,74.09h-0.9M266.40,70.61h-0.9M266.40,67.12h-0.9M266.40,63.64h-0.9M266.40,60.15h-0.9M266.40,56.67h-0.9M266.40,53.18h-0.9M266.40,49.70h-0.9M266.40,46.21h-0.9M266.40,42.73h-0.9M266.40,39.24h-0.9M266.40,35.76h-0.9M266.40,32.27h-0.9M266.40,28.79h-0.9M266.40,25.30h-0.9M266.40,21.82h-0.9M266.40,18.33h-0.9M266.40,14.85h-0.9M266.40,11.36h-0.9M266.40,7.88h-0.9" stroke="#c8c8c8" stroke-width="0.35" fill="none"/>
<text transform="translate(258.85,85.25) rotate(-90)" font-family="Liberation Sans, sans-serif" font-size="5.1" fill="#222" stroke="#222" stroke-width="0.08" text-anchor="middle" textLength="48.5" lengthAdjust="spacingAndGlyphs">Number of TNC Vehicles</text>
<g font-family="Liberation Sans, sans-serif" font-size="2.2" fill="#555" text-anchor="middle">
<text transform="translate(266.50,157.55) rotate(0.03) scale(1.3,1)">0</text>
<text transform="translate(276.02,157.55) rotate(0.03) scale(1.3,1)">1</text>
<text transform="translate(285.54,157.55) rotate(0.03) scale(1.3,1)">2</text>
<text transform="translate(295.06,157.55) rotate(0.03) scale(1.3,1)">3</text>
<text transform="translate(304.58,157.55) rotate(0.03) scale(1.3,1)">4</text>
<text transform="translate(314.10,157.55) rotate(0.03) scale(1.3,1)">5</text>
<text transform="translate(323.62,157.55) rotate(0.03) scale(1.3,1)">6</text>
<text transform="translate(333.14,157.55) rotate(0.03) scale(1.3,1)">7</text>
<text transform="translate(342.66,157.55) rotate(0.03) scale(1.3,1)">8</text>
<text transform="translate(352.18,157.55) rotate(0.03) scale(1.3,1)">9</text>
<text transform="translate(361.70,157.55) rotate(0.03) scale(1.3,1)">10</text>
<text transform="translate(371.22,157.55) rotate(0.03) scale(1.3,1)">11</text>
<text transform="translate(380.74,157.55) rotate(0.03) scale(1.3,1)">12</text>
<text transform="translate(390.26,157.55) rotate(0.03) scale(1.3,1)">13</text>
<text transform="translate(399.78,157.55) rotate(0.03) scale(1.3,1)">14</text>
<text transform="translate(409.30,157.55) rotate(0.03) scale(1.3,1)">15</text>
<text transform="translate(418.82,157.55) rotate(0.03) scale(1.3,1)">16</text>
<text transform="translate(428.34,157.55) rotate(0.03) scale(1.3,1)">17</text>
<text transform="translate(437.86,157.55) rotate(0.03) scale(1.3,1)">18</text>
<text transform="translate(447.38,157.55) rotate(0.03) scale(1.3,1)">19</text>
<text transform="translate(456.90,157.55) rotate(0.03) scale(1.3,1)">20</text>
<text transform="translate(466.42,157.55) rotate(0.03) scale(1.3,1)">21</text>
<text transform="translate(475.94,157.55) rotate(0.03) scale(1.3,1)">22</text>
<text transform="translate(485.46,157.55) rotate(0.03) scale(1.3,1)">23</text>
</g>
<path d="M266.12,154.55v0.8M275.60,154.55v0.8M285.08,154.55v0.8M294.57,154.55v0.8M304.05,154.55v0.8M313.53,154.55v0.8M323.01,154.55v0.8M332.50,154.55v0.8M341.98,154.55v0.8M351.46,154.55v0.8M360.94,154.55v0.8M370.43,154.55v0.8M379.91,154.55v0.8M389.39,154.55v0.8M398.87,154.55v0.8M408.36,154.55v0.8M417.84,154.55v0.8M427.32,154.55v0.8M436.80,154.55v0.8M446.29,154.55v0.8M455.77,154.55v0.8M465.25,154.55v0.8M474.73,154.55v0.8M484.22,154.55v0.8M493.70,154.55v0.8" stroke="#c8c8c8" stroke-width="0.35" fill="none"/>
<text x="385.80" y="161.45" font-family="Liberation Sans, sans-serif" font-size="4.2" font-weight="bold" fill="#111" stroke="#111" stroke-width="0.12" text-anchor="middle" textLength="18.4" lengthAdjust="spacingAndGlyphs">Time [h]</text>
<rect x="287.70" y="163.65" width="6.90" height="2.2" rx="0.7" fill="#ff5555"/>
<text x="297.10" y="166.00" font-family="Liberation Sans, sans-serif" font-size="3.5" fill="#111" stroke="#111" stroke-width="0.12" textLength="22.2" lengthAdjust="spacingAndGlyphs">4 Passengers</text>
<rect x="321.90" y="163.65" width="7.10" height="2.2" rx="0.7" fill="#5555ff"/>
<text x="331.40" y="166.00" font-family="Liberation Sans, sans-serif" font-size="3.5" fill="#111" stroke="#111" stroke-width="0.12" textLength="22.1" lengthAdjust="spacingAndGlyphs">3 Passengers</text>
<rect x="355.90" y="163.65" width="6.70" height="2.2" rx="0.7" fill="#55ff55"/>
<text x="364.80" y="166.00" font-family="Liberation Sans, sans-serif" font-size="3.5" fill="#111" stroke="#111" stroke-width="0.12" textLength="22.2" lengthAdjust="spacingAndGlyphs">2 Passengers</text>
<rect x="389.70" y="163.65" width="7.40" height="2.2" rx="0.7" fill="#ffff55"/>
<text x="399.60" y="166.00" font-family="Liberation Sans, sans-serif" font-size="3.5" fill="#111" stroke="#111" stroke-width="0.12" textLength="20.1" lengthAdjust="spacingAndGlyphs">1 Passenger</text>
<rect x="422.30" y="163.65" width="7.10" height="2.2" rx="0.7" fill="#ff55ff"/>
<text x="431.40" y="166.00" font-family="Liberation Sans, sans-serif" font-size="3.5" fill="#111" stroke="#111" stroke-width="0.12" textLength="22.5" lengthAdjust="spacingAndGlyphs">0 Passengers</text>
<rect x="458.60" y="163.65" width="6.00" height="2.2" rx="0.7" fill="#c0c0c0"/>
<text x="466.60" y="166.00" font-family="Liberation Sans, sans-serif" font-size="3.5" fill="#111" stroke="#111" stroke-width="0.12" textLength="7.0" lengthAdjust="spacingAndGlyphs">Stay</text>
<text font-family="Liberation Serif, serif" font-size="11.3" fill="#111" stroke="#111" stroke-width="0.28" text-anchor="middle" transform="translate(373.40,179.65) scale(0.9,1)">(b)</text>
</g>
<g>
<text x="131.70" y="189.75" font-family="Liberation Sans, sans-serif" font-size="5.2" font-weight="bold" fill="#1a1a1a" stroke="#1a1a1a" stroke-width="0.18" text-anchor="middle" textLength="30.2" lengthAdjust="spacingAndGlyphs">Time Profile</text>
<path d="M15.30,337.65 V191.20" fill="none" stroke="#cfcfcf" stroke-width="0.8"/>
<path d="M15.30,191.20 H242.60" fill="none" stroke="#dadada" stroke-width="0.8"/>
<path d="M15.30,337.95 H242.60" fill="none" stroke="#d0d0d0" stroke-width="0.7"/>
<rect x="24.50" y="198.10" width="218.10" height="139.55" fill="#c0c0c0"/>
<path d="M24.50,337.65 L24.59,337.05 L25.31,336.68 L26.04,336.08 L26.64,335.42 L27.25,335.23 L27.85,334.63 L28.45,334.63 L29.06,334.85 L29.66,335.23 L30.27,335.97 L30.87,336.44 L31.47,336.15 L32.08,335.60 L32.68,335.15 L33.29,334.63 L33.89,334.66 L34.49,334.03 L35.10,334.29 L35.70,334.39 L36.30,335.16 L36.91,335.23 L37.51,335.19 L38.12,335.60 L38.72,335.88 L39.32,335.84 L39.93,336.01 L40.53,336.08 L41.14,335.63 L41.74,335.60 L42.34,335.24 L42.95,335.23 L43.55,334.60 L44.15,334.63 L44.76,334.71 L45.36,334.03 L45.97,333.79 L46.57,333.42 L47.17,333.74 L47.78,333.06 L48.38,333.39 L48.99,333.42 L49.59,333.62 L50.19,334.03 L50.80,334.24 L51.40,334.63 L52.00,334.97 L52.61,335.23 L53.21,335.68 L53.82,335.60 L54.42,335.37 L55.02,335.23 L55.63,335.42 L56.23,335.23 L56.84,335.31 L57.44,335.60 L58.04,335.75 L58.65,335.84 L59.25,335.88 L59.86,336.08 L60.46,335.09 L61.06,334.63 L61.67,333.93 L62.27,334.03 L62.87,333.08 L63.48,332.82 L64.08,332.26 L64.69,331.61 L65.29,331.62 L65.89,331.25 L66.50,332.23 L67.10,332.82 L67.71,333.21 L68.31,334.03 L68.91,333.55 L69.52,333.66 L70.12,333.98 L70.72,334.03 L71.33,333.46 L71.93,333.42 L72.54,332.95 L73.14,332.82 L73.74,332.58 L74.35,331.61 L75.00,329.20 L75.60,328.32 L76.21,327.99 L76.81,326.44 L77.42,324.97 L78.02,323.66 L78.62,322.55 L79.23,321.81 L79.83,321.35 L80.43,320.15 L81.04,319.53 L81.64,318.07 L82.25,317.12 L82.85,317.23 L83.45,317.72 L84.06,316.86 L84.66,315.31 L85.27,314.09 L85.87,313.50 L86.47,312.74 L87.08,311.68 L87.68,310.31 L88.29,309.27 L88.89,307.74 L89.49,306.85 L90.10,306.38 L90.70,305.04 L91.30,304.76 L91.91,304.68 L92.51,305.19 L93.12,305.40 L93.72,305.95 L94.32,305.89 L94.93,305.95 L95.53,305.40 L96.14,305.63 L96.74,305.04 L97.34,306.11 L97.95,306.25 L98.55,306.19 L99.15,306.61 L99.76,306.60 L100.36,307.46 L100.97,308.41 L101.57,309.27 L102.17,309.84 L102.78,311.08 L103.38,311.85 L103.99,313.50 L104.59,314.33 L105.19,315.31 L105.80,316.08 L106.40,315.91 L107.00,317.00 L107.61,317.72 L108.21,317.36 L108.82,317.12 L109.42,317.12 L110.02,316.27 L110.63,317.21 L111.23,318.93 L111.84,320.87 L112.44,321.95 L113.04,323.71 L113.65,324.97 L114.25,325.10 L114.86,326.18 L115.46,326.32 L116.06,325.57 L116.67,324.78 L117.27,324.36 L117.87,323.46 L118.48,321.95 L119.08,320.61 L119.69,320.14 L120.29,320.62 L120.89,321.35 L121.50,323.02 L122.10,324.36 L122.71,325.13 L123.31,326.18 L123.91,325.45 L124.52,324.97 L125.12,324.56 L125.72,323.16 L126.33,323.62 L126.93,323.76 L127.54,323.42 L128.14,323.16 L128.74,323.45 L129.35,324.36 L130.00,326.18 L130.60,325.49 L131.21,325.57 L131.81,324.94 L132.42,323.76 L133.02,323.07 L133.62,322.55 L134.23,322.76 L134.83,323.16 L135.43,322.64 L136.04,322.55 L136.64,321.54 L137.25,321.35 L137.85,320.46 L138.45,319.53 L139.06,320.43 L139.66,320.74 L140.27,322.61 L140.87,324.36 L141.47,324.85 L142.08,325.57 L142.68,325.46 L143.29,324.36 L143.89,323.69 L144.49,323.76 L145.10,322.81 L145.70,322.55 L146.30,321.92 L146.91,321.59 L147.51,322.15 L148.12,323.16 L148.72,324.01 L149.32,324.97 L149.93,325.26 L150.53,325.94 L151.14,325.34 L151.74,325.57 L152.34,326.31 L152.95,326.18 L153.55,325.71 L154.15,324.97 L154.76,323.70 L155.36,322.55 L155.97,322.40 L156.57,321.35 L157.17,321.32 L157.78,321.95 L158.38,321.07 L158.99,320.74 L159.59,319.89 L160.19,318.33 L160.80,317.10 L161.40,315.91 L162.00,315.96 L162.61,316.51 L163.21,316.44 L163.82,315.91 L164.42,316.42 L165.02,316.51 L165.63,315.69 L166.23,315.31 L166.84,314.78 L167.44,313.50 L168.04,312.42 L168.65,312.29 L169.25,311.57 L169.86,310.48 L170.46,310.10 L171.06,309.87 L171.67,308.96 L172.27,307.46 L172.87,306.70 L173.48,305.04 L174.08,303.86 L174.69,303.23 L175.29,301.70 L175.89,299.61 L176.50,298.48 L177.10,297.79 L177.71,297.48 L178.31,297.43 L178.91,297.17 L179.52,295.98 L180.12,296.47 L180.72,296.22 L181.33,296.11 L181.93,295.38 L182.54,295.05 L183.14,294.53 L183.74,295.27 L184.35,295.02 L185.00,295.02 L185.60,295.63 L186.21,296.59 L186.81,296.75 L187.42,297.19 L188.02,297.40 L188.62,297.79 L189.23,299.09 L189.83,299.61 L190.43,299.79 L191.04,300.81 L191.64,301.50 L192.25,301.42 L192.85,303.05 L193.45,303.83 L194.06,305.26 L194.66,306.25 L195.27,307.61 L195.87,308.06 L196.47,308.32 L197.08,308.66 L197.68,308.95 L198.29,309.27 L198.89,309.72 L199.49,309.87 L200.10,310.25 L200.70,310.48 L201.30,311.29 L201.91,312.89 L202.51,314.51 L203.12,315.31 L203.72,315.65 L204.32,315.55 L204.93,315.77 L205.53,315.91 L206.14,315.21 L206.74,314.10 L207.34,313.19 L207.95,312.89 L208.55,313.53 L209.15,314.10 L209.76,314.92 L210.36,315.31 L210.97,315.76 L211.57,316.51 L212.17,317.29 L212.78,318.33 L213.38,319.40 L213.99,320.74 L214.59,321.55 L215.19,322.55 L215.80,323.10 L216.40,324.36 L217.00,325.37 L217.61,325.57 L218.21,324.85 L218.82,324.97 L219.42,324.49 L220.02,324.73 L220.63,324.60 L221.23,324.97 L221.84,325.41 L222.44,326.78 L223.04,327.38 L223.65,328.59 L224.25,329.30 L224.86,329.80 L225.46,330.69 L226.06,331.01 L226.67,332.27 L227.27,332.82 L227.87,333.57 L228.48,334.63 L229.08,335.17 L229.69,335.23 L230.29,335.29 L230.89,334.87 L231.50,335.00 L232.10,334.63 L232.71,334.18 L233.31,334.39 L233.91,334.92 L234.52,334.87 L235.12,334.13 L235.72,334.03 L236.33,333.53 L236.93,333.66 L237.54,333.80 L238.14,333.18 L238.74,333.47 L239.35,332.82 L239.95,332.81 L240.56,332.46 L241.16,332.21 L241.76,331.97 L242.60,331.61 L242.60,331.61 L242.60,337.65Z" fill="#ff55ff"/>
<path d="M24.50,337.65 L24.59,337.41 L25.31,337.25 L26.04,337.05 L26.64,336.63 L27.25,336.44 L27.85,336.11 L28.45,336.08 L29.06,336.01 L29.66,336.44 L30.27,336.97 L30.87,337.05 L31.47,337.02 L32.08,336.56 L32.68,336.39 L33.29,335.84 L33.89,335.85 L34.49,335.23 L35.10,335.24 L35.70,335.60 L36.30,335.97 L36.91,336.08 L37.51,336.03 L38.12,336.44 L38.72,336.78 L39.32,336.68 L39.93,336.92 L40.53,336.80 L41.14,336.41 L41.74,336.44 L42.34,336.10 L42.95,336.08 L43.55,335.69 L44.15,335.60 L44.76,335.55 L45.36,334.87 L45.97,334.46 L46.57,334.39 L47.17,334.26 L47.78,334.03 L48.38,334.75 L48.99,334.63 L49.59,334.61 L50.19,335.23 L50.80,335.23 L51.40,335.60 L52.00,335.91 L52.61,336.08 L53.21,336.27 L53.82,336.44 L54.42,336.44 L55.02,336.20 L55.63,336.24 L56.23,336.08 L56.84,336.02 L57.44,336.44 L58.04,336.75 L58.65,337.05 L59.25,337.25 L59.86,337.29 L60.46,336.45 L61.06,335.84 L61.67,335.08 L62.27,335.23 L62.87,334.68 L63.48,334.03 L64.08,333.46 L64.69,332.82 L65.29,332.64 L65.89,332.22 L66.50,333.18 L67.10,334.03 L67.71,334.38 L68.31,335.23 L68.91,334.86 L69.52,335.23 L70.12,335.22 L70.72,335.23 L71.33,335.19 L71.93,334.87 L72.54,334.55 L73.14,334.39 L73.74,334.27 L74.35,333.42 L75.00,331.61 L75.60,330.73 L76.21,330.40 L76.81,328.89 L77.42,327.99 L78.02,327.06 L78.62,325.57 L79.23,325.18 L79.83,324.97 L80.43,323.81 L81.04,323.16 L81.64,322.10 L82.25,320.74 L82.85,321.12 L83.45,321.35 L84.06,320.17 L84.66,318.93 L85.27,317.51 L85.87,317.12 L86.47,315.99 L87.08,315.31 L87.68,313.87 L88.29,312.89 L88.89,311.56 L89.49,311.08 L90.10,310.65 L90.70,309.87 L91.30,309.40 L91.91,309.27 L92.51,309.03 L93.12,309.27 L93.72,309.52 L94.32,309.87 L94.93,310.15 L95.53,309.51 L96.14,309.66 L96.74,309.87 L97.34,310.60 L97.95,310.48 L98.55,310.58 L99.15,310.72 L99.76,310.70 L100.36,311.68 L100.97,312.18 L101.57,312.89 L102.17,313.47 L102.78,314.70 L103.38,315.48 L103.99,316.51 L104.59,317.56 L105.19,318.33 L105.80,318.74 L106.40,318.93 L107.00,320.29 L107.61,320.74 L108.21,320.25 L108.82,320.14 L109.42,320.22 L110.02,319.53 L110.63,320.45 L111.23,321.95 L111.84,323.54 L112.44,324.97 L113.04,326.40 L113.65,327.38 L114.25,327.07 L114.86,327.99 L115.46,328.56 L116.06,327.99 L116.67,327.64 L117.27,327.38 L117.87,326.47 L118.48,324.97 L119.08,324.00 L119.69,323.16 L120.29,323.67 L120.89,324.36 L121.50,326.00 L122.10,327.38 L122.71,327.88 L123.31,327.99 L123.91,327.64 L124.52,326.78 L125.12,326.71 L125.72,325.57 L126.33,326.03 L126.93,326.18 L127.54,326.10 L128.14,325.57 L128.74,325.97 L129.35,326.78 L130.00,328.83 L130.60,328.46 L131.21,328.59 L131.81,327.53 L132.42,326.78 L133.02,326.23 L133.62,325.57 L134.23,325.79 L134.83,326.18 L135.43,325.99 L136.04,325.57 L136.64,324.69 L137.25,324.36 L137.85,323.78 L138.45,322.55 L139.06,323.45 L139.66,324.36 L140.27,325.85 L140.87,327.38 L141.47,327.88 L142.08,328.35 L142.68,328.38 L143.29,327.14 L143.89,326.38 L144.49,326.18 L145.10,325.50 L145.70,325.57 L146.30,325.29 L146.91,324.97 L147.51,325.42 L148.12,326.18 L148.72,326.93 L149.32,327.63 L149.93,327.60 L150.53,328.35 L151.14,327.62 L151.74,327.99 L152.34,328.40 L152.95,328.35 L153.55,328.15 L154.15,327.38 L154.76,326.77 L155.36,325.57 L155.97,325.39 L156.57,324.97 L157.17,324.73 L157.78,324.97 L158.38,324.21 L158.99,324.36 L159.59,323.84 L160.19,322.55 L160.80,321.48 L161.40,320.14 L162.00,319.98 L162.61,320.14 L163.21,319.97 L163.82,320.14 L164.42,320.19 L165.02,320.14 L165.63,319.16 L166.23,318.93 L166.84,318.67 L167.44,317.72 L168.04,316.83 L168.65,316.51 L169.25,315.72 L169.86,314.70 L170.46,314.32 L171.06,314.10 L171.67,313.07 L172.27,311.68 L172.87,310.92 L173.48,309.87 L174.08,309.05 L174.69,308.06 L175.29,306.22 L175.89,304.44 L176.50,303.94 L177.10,303.23 L177.71,302.92 L178.31,302.63 L178.91,302.13 L179.52,301.42 L180.12,301.39 L180.72,300.81 L181.33,300.56 L181.93,300.21 L182.54,299.65 L183.14,299.61 L183.74,299.93 L184.35,299.61 L185.00,299.61 L185.60,300.40 L186.21,300.81 L186.81,301.67 L187.42,302.02 L188.02,302.56 L188.62,302.63 L189.23,303.04 L189.83,303.23 L190.43,303.50 L191.04,304.44 L191.64,305.10 L192.25,305.65 L192.85,306.57 L193.45,307.46 L194.06,308.40 L194.66,309.27 L195.27,310.99 L195.87,311.68 L196.47,311.92 L197.08,312.29 L197.68,312.49 L198.29,312.29 L198.89,312.77 L199.49,312.89 L200.10,313.48 L200.70,313.50 L201.30,314.65 L201.91,315.91 L202.51,317.59 L203.12,318.33 L203.72,318.95 L204.32,318.93 L204.93,318.43 L205.53,318.33 L206.14,317.99 L206.74,317.12 L207.34,316.08 L207.95,315.91 L208.55,316.35 L209.15,317.12 L209.76,317.74 L210.36,318.33 L210.97,319.15 L211.57,319.53 L212.17,320.12 L212.78,320.74 L213.38,321.28 L213.99,322.55 L214.59,323.45 L215.19,324.36 L215.80,324.85 L216.40,325.57 L217.00,326.36 L217.61,326.78 L218.21,326.25 L218.82,326.42 L219.42,325.95 L220.02,326.18 L220.63,325.76 L221.23,326.18 L221.84,326.83 L222.44,327.99 L223.04,328.67 L223.65,329.80 L224.25,330.60 L224.86,331.01 L225.46,331.63 L226.06,331.61 L226.67,332.66 L227.27,333.66 L227.87,334.31 L228.48,335.60 L229.08,335.81 L229.69,335.84 L230.29,335.93 L230.89,335.60 L231.50,335.44 L232.10,335.36 L232.71,335.18 L233.31,335.11 L233.91,335.51 L234.52,335.48 L235.12,335.14 L235.72,334.87 L236.33,334.31 L236.93,334.39 L237.54,334.12 L238.14,334.03 L238.74,334.39 L239.35,333.66 L239.95,333.77 L240.56,333.42 L241.16,333.09 L241.76,332.82 L242.60,332.58 L242.60,332.58 L242.60,337.65Z" fill="#ffff55"/>
<path d="M24.50,337.65 L24.60,337.35 L88.00,337.25 L92.00,336.85 L100.00,336.85 L104.00,337.25 L242.60,337.35 L242.60,337.65Z" fill="#55ff55" opacity="0.8"/>
<text x="29.40" y="204.60" font-family="Liberation Sans, sans-serif" font-size="5.3" font-weight="bold" fill="#1a1a1a" stroke="#1a1a1a" stroke-width="0.14" textLength="42.8" lengthAdjust="spacingAndGlyphs">Ride-pooling d2d</text>
<text x="29.40" y="212.70" font-family="Liberation Sans, sans-serif" font-size="5.3" font-weight="bold" fill="#1a1a1a" stroke="#1a1a1a" stroke-width="0.14" textLength="73" lengthAdjust="spacingAndGlyphs">400 TNC Veh (Max WT 5 min)</text>
<g font-family="Liberation Sans, sans-serif" font-size="2.3" fill="#555" text-anchor="end">
<text transform="translate(13.50,338.45) rotate(0.03) scale(1.2,1)">0</text>
<text transform="translate(13.50,334.96) rotate(0.03) scale(1.2,1)">10</text>
<text transform="translate(13.50,331.47) rotate(0.03) scale(1.2,1)">20</text>
<text transform="translate(13.50,327.98) rotate(0.03) scale(1.2,1)">30</text>
<text transform="translate(13.50,324.50) rotate(0.03) scale(1.2,1)">40</text>
<text transform="translate(13.50,321.01) rotate(0.03) scale(1.2,1)">50</text>
<text transform="translate(13.50,317.52) rotate(0.03) scale(1.2,1)">60</text>
<text transform="translate(13.50,314.03) rotate(0.03) scale(1.2,1)">70</text>
<text transform="translate(13.50,310.54) rotate(0.03) scale(1.2,1)">80</text>
<text transform="translate(13.50,307.05) rotate(0.03) scale(1.2,1)">90</text>
<text transform="translate(13.50,303.56) rotate(0.03) scale(1.2,1)">100</text>
<text transform="translate(13.50,300.07) rotate(0.03) scale(1.2,1)">110</text>
<text transform="translate(13.50,296.58) rotate(0.03) scale(1.2,1)">120</text>
<text transform="translate(13.50,293.10) rotate(0.03) scale(1.2,1)">130</text>
<text transform="translate(13.50,289.61) rotate(0.03) scale(1.2,1)">140</text>
<text transform="translate(13.50,286.12) rotate(0.03) scale(1.2,1)">150</text>
<text transform="translate(13.50,282.63) rotate(0.03) scale(1.2,1)">160</text>
<text transform="translate(13.50,279.14) rotate(0.03) scale(1.2,1)">170</text>
<text transform="translate(13.50,275.65) rotate(0.03) scale(1.2,1)">180</text>
<text transform="translate(13.50,272.16) rotate(0.03) scale(1.2,1)">190</text>
<text transform="translate(13.50,268.68) rotate(0.03) scale(1.2,1)">200</text>
<text transform="translate(13.50,265.19) rotate(0.03) scale(1.2,1)">210</text>
<text transform="translate(13.50,261.70) rotate(0.03) scale(1.2,1)">220</text>
<text transform="translate(13.50,258.21) rotate(0.03) scale(1.2,1)">230</text>
<text transform="translate(13.50,254.72) rotate(0.03) scale(1.2,1)">240</text>
<text transform="translate(13.50,251.23) rotate(0.03) scale(1.2,1)">250</text>
<text transform="translate(13.50,247.74) rotate(0.03) scale(1.2,1)">260</text>
<text transform="translate(13.50,244.25) rotate(0.03) scale(1.2,1)">270</text>
<text transform="translate(13.50,240.76) rotate(0.03) scale(1.2,1)">280</text>
<text transform="translate(13.50,237.28) rotate(0.03) scale(1.2,1)">290</text>
<text transform="translate(13.50,233.79) rotate(0.03) scale(1.2,1)">300</text>
<text transform="translate(13.50,230.30) rotate(0.03) scale(1.2,1)">310</text>
<text transform="translate(13.50,226.81) rotate(0.03) scale(1.2,1)">320</text>
<text transform="translate(13.50,223.32) rotate(0.03) scale(1.2,1)">330</text>
<text transform="translate(13.50,219.83) rotate(0.03) scale(1.2,1)">340</text>
<text transform="translate(13.50,216.34) rotate(0.03) scale(1.2,1)">350</text>
<text transform="translate(13.50,212.86) rotate(0.03) scale(1.2,1)">360</text>
<text transform="translate(13.50,209.37) rotate(0.03) scale(1.2,1)">370</text>
<text transform="translate(13.50,205.88) rotate(0.03) scale(1.2,1)">380</text>
<text transform="translate(13.50,202.39) rotate(0.03) scale(1.2,1)">390</text>
<text transform="translate(13.50,198.90) rotate(0.03) scale(1.2,1)">400</text>
<text transform="translate(13.50,195.41) rotate(0.03) scale(1.2,1)">410</text>
<text transform="translate(13.50,191.92) rotate(0.03) scale(1.2,1)">420</text>
</g>
<path d="M15.30,337.65h-0.9M15.30,334.16h-0.9M15.30,330.67h-0.9M15.30,327.18h-0.9M15.30,323.69h-0.9M15.30,320.21h-0.9M15.30,316.72h-0.9M15.30,313.23h-0.9M15.30,309.74h-0.9M15.30,306.25h-0.9M15.30,302.76h-0.9M15.30,299.27h-0.9M15.30,295.78h-0.9M15.30,292.30h-0.9M15.30,288.81h-0.9M15.30,285.32h-0.9M15.30,281.83h-0.9M15.30,278.34h-0.9M15.30,274.85h-0.9M15.30,271.36h-0.9M15.30,267.88h-0.9M15.30,264.39h-0.9M15.30,260.90h-0.9M15.30,257.41h-0.9M15.30,253.92h-0.9M15.30,250.43h-0.9M15.30,246.94h-0.9M15.30,243.45h-0.9M15.30,239.96h-0.9M15.30,236.48h-0.9M15.30,232.99h-0.9M15.30,229.50h-0.9M15.30,226.01h-0.9M15.30,222.52h-0.9M15.30,219.03h-0.9M15.30,215.54h-0.9M15.30,212.06h-0.9M15.30,208.57h-0.9M15.30,205.08h-0.9M15.30,201.59h-0.9M15.30,198.10h-0.9M15.30,194.61h-0.9M15.30,191.12h-0.9" stroke="#c8c8c8" stroke-width="0.35" fill="none"/>
<text transform="translate(7.75,268.57) rotate(-90)" font-family="Liberation Sans, sans-serif" font-size="5.1" fill="#222" stroke="#222" stroke-width="0.08" text-anchor="middle" textLength="48.5" lengthAdjust="spacingAndGlyphs">Number of TNC Vehicles</text>
<g font-family="Liberation Sans, sans-serif" font-size="2.2" fill="#555" text-anchor="middle">
<text transform="translate(15.40,340.95) rotate(0.03) scale(1.3,1)">0</text>
<text transform="translate(24.92,340.95) rotate(0.03) scale(1.3,1)">1</text>
<text transform="translate(34.44,340.95) rotate(0.03) scale(1.3,1)">2</text>
<text transform="translate(43.96,340.95) rotate(0.03) scale(1.3,1)">3</text>
<text transform="translate(53.48,340.95) rotate(0.03) scale(1.3,1)">4</text>
<text transform="translate(63.00,340.95) rotate(0.03) scale(1.3,1)">5</text>
<text transform="translate(72.52,340.95) rotate(0.03) scale(1.3,1)">6</text>
<text transform="translate(82.04,340.95) rotate(0.03) scale(1.3,1)">7</text>
<text transform="translate(91.56,340.95) rotate(0.03) scale(1.3,1)">8</text>
<text transform="translate(101.08,340.95) rotate(0.03) scale(1.3,1)">9</text>
<text transform="translate(110.60,340.95) rotate(0.03) scale(1.3,1)">10</text>
<text transform="translate(120.12,340.95) rotate(0.03) scale(1.3,1)">11</text>
<text transform="translate(129.64,340.95) rotate(0.03) scale(1.3,1)">12</text>
<text transform="translate(139.16,340.95) rotate(0.03) scale(1.3,1)">13</text>
<text transform="translate(148.68,340.95) rotate(0.03) scale(1.3,1)">14</text>
<text transform="translate(158.20,340.95) rotate(0.03) scale(1.3,1)">15</text>
<text transform="translate(167.72,340.95) rotate(0.03) scale(1.3,1)">16</text>
<text transform="translate(177.24,340.95) rotate(0.03) scale(1.3,1)">17</text>
<text transform="translate(186.76,340.95) rotate(0.03) scale(1.3,1)">18</text>
<text transform="translate(196.28,340.95) rotate(0.03) scale(1.3,1)">19</text>
<text transform="translate(205.80,340.95) rotate(0.03) scale(1.3,1)">20</text>
<text transform="translate(215.32,340.95) rotate(0.03) scale(1.3,1)">21</text>
<text transform="translate(224.84,340.95) rotate(0.03) scale(1.3,1)">22</text>
<text transform="translate(234.36,340.95) rotate(0.03) scale(1.3,1)">23</text>
</g>
<path d="M15.02,337.95v0.8M24.50,337.95v0.8M33.98,337.95v0.8M43.47,337.95v0.8M52.95,337.95v0.8M62.43,337.95v0.8M71.91,337.95v0.8M81.40,337.95v0.8M90.88,337.95v0.8M100.36,337.95v0.8M109.84,337.95v0.8M119.33,337.95v0.8M128.81,337.95v0.8M138.29,337.95v0.8M147.77,337.95v0.8M157.26,337.95v0.8M166.74,337.95v0.8M176.22,337.95v0.8M185.70,337.95v0.8M195.19,337.95v0.8M204.67,337.95v0.8M214.15,337.95v0.8M223.63,337.95v0.8M233.12,337.95v0.8M242.60,337.95v0.8" stroke="#c8c8c8" stroke-width="0.35" fill="none"/>
<text x="134.70" y="344.85" font-family="Liberation Sans, sans-serif" font-size="4.2" font-weight="bold" fill="#111" stroke="#111" stroke-width="0.12" text-anchor="middle" textLength="18.4" lengthAdjust="spacingAndGlyphs">Time [h]</text>
<rect x="36.60" y="347.05" width="6.90" height="2.2" rx="0.7" fill="#ff5555"/>
<text x="46.00" y="349.40" font-family="Liberation Sans, sans-serif" font-size="3.5" fill="#111" stroke="#111" stroke-width="0.12" textLength="22.2" lengthAdjust="spacingAndGlyphs">4 Passengers</text>
<rect x="70.80" y="347.05" width="7.10" height="2.2" rx="0.7" fill="#5555ff"/>
<text x="80.30" y="349.40" font-family="Liberation Sans, sans-serif" font-size="3.5" fill="#111" stroke="#111" stroke-width="0.12" textLength="22.1" lengthAdjust="spacingAndGlyphs">3 Passengers</text>
<rect x="104.80" y="347.05" width="6.70" height="2.2" rx="0.7" fill="#55ff55"/>
<text x="113.70" y="349.40" font-family="Liberation Sans, sans-serif" font-size="3.5" fill="#111" stroke="#111" stroke-width="0.12" textLength="22.2" lengthAdjust="spacingAndGlyphs">2 Passengers</text>
<rect x="138.60" y="347.05" width="7.40" height="2.2" rx="0.7" fill="#ffff55"/>
<text x="148.50" y="349.40" font-family="Liberation Sans, sans-serif" font-size="3.5" fill="#111" stroke="#111" stroke-width="0.12" textLength="20.1" lengthAdjust="spacingAndGlyphs">1 Passenger</text>
<rect x="171.20" y="347.05" width="7.10" height="2.2" rx="0.7" fill="#ff55ff"/>
<text x="180.30" y="349.40" font-family="Liberation Sans, sans-serif" font-size="3.5" fill="#111" stroke="#111" stroke-width="0.12" textLength="22.5" lengthAdjust="spacingAndGlyphs">0 Passengers</text>
<rect x="207.50" y="347.05" width="6.00" height="2.2" rx="0.7" fill="#c0c0c0"/>
<text x="215.50" y="349.40" font-family="Liberation Sans, sans-serif" font-size="3.5" fill="#111" stroke="#111" stroke-width="0.12" textLength="7.0" lengthAdjust="spacingAndGlyphs">Stay</text>
<text font-family="Liberation Serif, serif" font-size="11.3" fill="#111" stroke="#111" stroke-width="0.28" text-anchor="middle" transform="translate(122.30,363.05) scale(0.9,1)">(c)</text>
</g>
<g>
<text x="382.80" y="189.75" font-family="Liberation Sans, sans-serif" font-size="5.2" font-weight="bold" fill="#1a1a1a" stroke="#1a1a1a" stroke-width="0.18" text-anchor="middle" textLength="30.2" lengthAdjust="spacingAndGlyphs">Time Profile</text>
<path d="M266.40,337.65 V191.20" fill="none" stroke="#cfcfcf" stroke-width="0.8"/>
<path d="M266.40,191.20 H493.70" fill="none" stroke="#dadada" stroke-width="0.8"/>
<path d="M266.40,337.95 H493.70" fill="none" stroke="#d0d0d0" stroke-width="0.7"/>
<rect x="275.60" y="198.10" width="218.10" height="139.55" fill="#c0c0c0"/>
<path d="M275.60,337.65 L275.60,337.05 L276.11,336.88 L276.83,336.80 L277.43,336.88 L278.04,337.05 L278.64,336.83 L279.25,336.44 L279.85,336.05 L280.45,335.60 L281.06,335.54 L281.66,335.84 L282.27,336.16 L282.87,336.80 L283.47,336.92 L284.08,337.05 L284.68,336.68 L285.29,336.44 L285.89,336.18 L286.49,336.08 L287.10,336.03 L287.70,335.84 L288.30,336.10 L288.91,336.44 L289.51,336.37 L290.12,336.08 L290.72,336.29 L291.32,336.44 L291.93,336.01 L292.53,335.60 L293.14,335.66 L293.74,336.08 L294.34,336.29 L294.95,336.56 L295.55,336.66 L296.15,336.80 L296.76,336.74 L297.36,336.71 L297.97,336.75 L298.57,336.80 L299.17,336.89 L299.78,336.83 L300.38,336.75 L300.99,336.80 L301.59,336.68 L302.19,336.51 L302.80,336.44 L303.40,336.44 L304.00,336.40 L304.61,336.08 L305.21,336.38 L305.82,336.80 L306.42,336.55 L307.02,336.44 L307.63,336.11 L308.23,335.84 L308.84,336.24 L309.44,336.44 L310.04,336.28 L310.65,336.08 L311.25,335.85 L311.86,335.84 L312.46,335.90 L313.06,336.08 L313.67,336.16 L314.27,335.84 L314.87,336.13 L315.48,336.08 L316.08,335.93 L316.69,335.84 L317.29,335.38 L317.89,335.23 L318.50,335.03 L319.10,334.63 L319.71,333.87 L320.31,333.42 L320.91,333.55 L321.52,332.82 L322.12,332.95 L322.72,333.66 L323.33,333.39 L323.93,332.82 L324.54,333.34 L325.14,334.03 L325.74,333.81 L326.35,333.66 L327.00,333.42 L327.60,332.93 L328.21,333.18 L328.81,332.95 L329.42,332.22 L330.02,331.74 L330.62,330.40 L331.23,330.09 L331.83,329.20 L332.43,329.67 L333.04,329.80 L333.64,328.78 L334.25,327.99 L334.85,327.70 L335.45,327.38 L336.06,326.36 L336.66,326.18 L337.27,325.69 L337.87,325.57 L338.47,326.12 L339.08,326.18 L339.68,326.06 L340.29,324.97 L340.89,325.51 L341.49,325.57 L342.10,324.47 L342.70,324.36 L343.30,323.80 L343.91,322.31 L344.51,322.74 L345.12,323.16 L345.72,323.43 L346.32,323.76 L346.93,322.25 L347.53,321.35 L348.14,319.69 L348.74,318.93 L349.34,319.24 L349.95,320.14 L350.55,320.24 L351.15,319.53 L351.76,318.33 L352.36,317.12 L352.97,317.89 L353.57,318.33 L354.17,319.24 L354.78,319.53 L355.38,320.18 L355.99,320.14 L356.59,319.61 L357.19,318.93 L357.80,319.27 L358.40,319.53 L359.00,320.80 L359.61,321.95 L360.21,322.00 L360.82,321.35 L361.42,320.57 L362.02,320.74 L362.63,321.25 L363.23,321.95 L363.84,322.98 L364.44,323.76 L365.04,325.14 L365.65,326.78 L366.25,327.29 L366.86,327.38 L367.46,326.62 L368.06,326.78 L368.67,326.00 L369.27,324.36 L369.87,324.95 L370.48,324.97 L371.08,324.36 L371.69,323.76 L372.29,325.11 L372.89,325.57 L373.50,324.84 L374.10,324.36 L374.71,324.99 L375.31,324.97 L375.91,324.34 L376.52,323.76 L377.12,324.46 L377.72,325.57 L378.33,324.15 L378.93,323.16 L379.54,323.97 L380.14,325.57 L380.74,326.23 L381.35,326.78 L382.00,326.78 L382.60,326.48 L383.21,326.18 L383.81,325.89 L384.42,325.57 L385.02,324.81 L385.62,324.97 L386.23,324.85 L386.83,324.36 L387.43,324.09 L388.04,323.76 L388.64,323.97 L389.25,324.36 L389.85,323.91 L390.45,323.16 L391.06,322.72 L391.66,322.55 L392.27,322.97 L392.87,323.16 L393.47,324.23 L394.08,324.36 L394.68,325.56 L395.29,326.18 L395.89,326.09 L396.49,326.78 L397.10,325.88 L397.70,325.57 L398.30,324.73 L398.91,324.36 L399.51,324.12 L400.12,323.16 L400.72,322.84 L401.32,322.55 L401.93,323.22 L402.53,323.16 L403.14,323.88 L403.74,323.76 L404.34,324.53 L404.95,324.36 L405.55,323.75 L406.15,323.76 L406.76,322.37 L407.36,321.35 L407.97,319.74 L408.57,318.93 L409.17,318.89 L409.78,318.33 L410.38,319.24 L410.99,320.14 L411.59,320.32 L412.19,320.74 L412.80,319.66 L413.40,318.93 L414.00,318.38 L414.61,317.12 L415.21,316.35 L415.82,314.70 L416.42,314.18 L417.02,313.50 L417.63,313.30 L418.23,312.29 L418.84,312.62 L419.44,312.89 L420.04,311.33 L420.65,309.87 L421.25,308.44 L421.86,306.25 L422.46,306.42 L423.06,305.65 L423.67,304.21 L424.27,303.23 L424.87,302.64 L425.48,301.42 L426.08,302.06 L426.69,302.02 L427.29,301.47 L427.89,300.81 L428.50,299.15 L429.10,298.40 L429.71,297.20 L430.31,295.38 L430.91,295.63 L431.52,295.98 L432.12,295.00 L432.72,294.78 L433.33,295.87 L433.93,295.98 L434.54,296.15 L435.14,296.59 L435.74,296.57 L436.35,297.19 L437.00,296.95 L437.60,297.50 L438.21,297.19 L438.81,298.13 L439.42,299.61 L440.02,300.23 L440.62,301.42 L441.23,302.80 L441.83,303.83 L442.43,305.23 L443.04,305.65 L443.64,306.54 L444.25,307.46 L444.85,308.63 L445.45,309.27 L446.06,310.36 L446.66,312.29 L447.27,312.12 L447.87,312.89 L448.47,312.85 L449.08,311.93 L449.68,312.16 L450.29,311.68 L450.89,312.27 L451.49,312.29 L452.10,313.01 L452.70,314.70 L453.30,317.13 L453.91,318.93 L454.51,319.60 L455.12,320.74 L455.72,321.20 L456.32,321.59 L456.93,322.53 L457.53,322.55 L458.14,322.83 L458.74,322.79 L459.34,322.65 L459.95,323.16 L460.55,323.08 L461.15,322.79 L461.76,323.65 L462.36,323.76 L462.97,324.63 L463.57,325.57 L464.17,326.07 L464.78,326.78 L465.38,327.34 L465.99,327.99 L466.59,327.97 L467.19,327.38 L467.80,327.64 L468.40,327.99 L469.00,328.78 L469.61,329.56 L470.21,329.49 L470.82,329.20 L471.42,329.49 L472.02,329.56 L472.63,330.82 L473.23,331.61 L473.84,331.73 L474.44,332.82 L475.04,333.29 L475.65,333.66 L476.25,334.25 L476.86,334.39 L477.46,334.45 L478.06,333.66 L478.67,333.74 L479.27,333.18 L479.87,333.27 L480.48,333.66 L481.08,333.34 L481.69,333.42 L482.29,333.99 L482.89,334.03 L483.50,334.18 L484.10,334.63 L484.71,334.40 L485.31,334.87 L485.91,335.37 L486.52,335.60 L487.12,335.90 L487.72,335.84 L488.33,335.55 L488.93,335.23 L489.54,334.91 L490.14,334.87 L490.74,335.30 L491.35,335.60 L491.95,335.78 L492.56,336.08 L493.52,335.84 L493.70,335.84 L493.70,337.65Z" fill="#ff55ff"/>
<path d="M275.60,337.65 L275.60,337.41 L276.11,337.27 L276.83,337.29 L277.43,337.27 L278.04,337.41 L278.64,337.27 L279.25,337.05 L279.85,336.83 L280.45,336.44 L281.06,336.52 L281.66,336.68 L282.27,336.92 L282.87,337.29 L283.47,337.31 L284.08,337.41 L284.68,337.26 L285.29,337.05 L285.89,336.97 L286.49,336.80 L287.10,336.90 L287.70,336.68 L288.30,336.92 L288.91,337.05 L289.51,336.98 L290.12,336.80 L290.72,336.93 L291.32,337.05 L291.93,336.68 L292.53,336.44 L293.14,336.37 L293.74,336.80 L294.34,336.94 L294.95,337.17 L295.55,337.24 L296.15,337.29 L296.76,337.31 L297.36,337.24 L297.97,337.23 L298.57,337.29 L299.17,337.35 L299.78,337.36 L300.38,337.27 L300.99,337.29 L301.59,337.28 L302.19,337.12 L302.80,337.00 L303.40,337.05 L304.00,336.95 L304.61,336.80 L305.21,336.94 L305.82,337.29 L306.42,337.17 L307.02,337.05 L307.63,336.72 L308.23,336.68 L308.84,336.96 L309.44,337.05 L310.04,336.92 L310.65,336.80 L311.25,336.65 L311.86,336.56 L312.46,336.55 L313.06,336.80 L313.67,336.86 L314.27,336.68 L314.87,336.74 L315.48,336.80 L316.08,336.74 L316.69,336.56 L317.29,336.39 L317.89,336.20 L318.50,335.90 L319.10,335.84 L319.71,335.26 L320.31,335.23 L320.91,335.35 L321.52,334.63 L322.12,334.43 L322.72,335.23 L323.33,335.17 L323.93,334.63 L324.54,335.11 L325.14,335.60 L325.74,335.23 L326.35,335.23 L327.00,335.23 L327.60,334.99 L328.21,334.63 L328.81,334.53 L329.42,334.03 L330.02,333.51 L330.62,332.82 L331.23,332.18 L331.83,331.61 L332.43,331.89 L333.04,332.22 L333.64,331.30 L334.25,330.40 L334.85,329.87 L335.45,329.80 L336.06,329.03 L336.66,328.59 L337.27,327.86 L337.87,327.99 L338.47,328.26 L339.08,328.59 L339.68,328.45 L340.29,327.38 L340.89,327.95 L341.49,327.99 L342.10,327.36 L342.70,326.78 L343.30,326.03 L343.91,324.97 L344.51,325.38 L345.12,325.94 L345.72,326.24 L346.32,326.18 L346.93,324.82 L347.53,324.36 L348.14,323.04 L348.74,321.95 L349.34,322.12 L349.95,323.16 L350.55,323.01 L351.15,322.55 L351.76,321.46 L352.36,320.14 L352.97,320.68 L353.57,321.35 L354.17,322.06 L354.78,322.55 L355.38,322.88 L355.99,323.16 L356.59,322.90 L357.19,321.95 L357.80,322.40 L358.40,322.55 L359.00,323.20 L359.61,324.36 L360.21,324.82 L360.82,324.36 L361.42,323.63 L362.02,323.76 L362.63,324.45 L363.23,324.97 L363.84,325.63 L364.44,326.78 L365.04,327.94 L365.65,329.80 L366.25,330.00 L366.86,330.40 L367.46,329.64 L368.06,329.20 L368.67,328.52 L369.27,327.38 L369.87,328.04 L370.48,327.99 L371.08,327.58 L371.69,326.78 L372.29,327.72 L372.89,328.59 L373.50,328.25 L374.10,327.38 L374.71,327.78 L375.31,327.99 L375.91,327.69 L376.52,326.78 L377.12,327.83 L377.72,328.59 L378.33,327.33 L378.93,326.18 L379.54,327.44 L380.14,329.20 L380.74,329.62 L381.35,330.40 L382.00,329.80 L382.60,329.55 L383.21,329.56 L383.81,329.34 L384.42,329.20 L385.02,328.54 L385.62,328.59 L386.23,328.15 L386.83,327.99 L387.43,327.83 L388.04,327.38 L388.64,327.19 L389.25,327.63 L389.85,327.19 L390.45,327.14 L391.06,326.67 L391.66,326.18 L392.27,326.74 L392.87,326.78 L393.47,327.46 L394.08,327.99 L394.68,328.76 L395.29,329.80 L395.89,330.14 L396.49,330.40 L397.10,329.39 L397.70,329.20 L398.30,328.65 L398.91,327.99 L399.51,327.41 L400.12,326.78 L400.72,326.94 L401.32,326.78 L401.93,327.04 L402.53,326.78 L403.14,327.23 L403.74,327.38 L404.34,327.82 L404.95,327.63 L405.55,327.61 L406.15,327.38 L406.76,326.65 L407.36,325.57 L407.97,324.35 L408.57,323.76 L409.17,323.43 L409.78,323.16 L410.38,324.11 L410.99,324.36 L411.59,323.72 L412.19,323.76 L412.80,322.56 L413.40,321.95 L414.00,321.48 L414.61,320.74 L415.21,320.13 L415.82,319.53 L416.42,318.95 L417.02,318.93 L417.63,318.72 L418.23,317.72 L418.84,317.50 L419.44,317.12 L420.04,315.25 L420.65,314.10 L421.25,312.53 L421.86,311.08 L422.46,310.58 L423.06,309.87 L423.67,308.73 L424.27,308.06 L424.87,308.15 L425.48,307.46 L426.08,307.02 L426.69,306.85 L427.29,306.81 L427.89,306.25 L428.50,305.65 L429.10,305.04 L429.71,304.32 L430.31,303.23 L430.91,302.37 L431.52,302.02 L432.12,301.81 L432.72,302.02 L433.33,302.32 L433.93,302.63 L434.54,302.87 L435.14,303.23 L435.74,302.55 L436.35,302.63 L437.00,303.23 L437.60,303.39 L438.21,302.99 L438.81,303.77 L439.42,305.04 L440.02,305.86 L440.62,306.85 L441.23,308.13 L441.83,308.66 L442.43,309.83 L443.04,310.48 L443.64,311.19 L444.25,311.44 L444.85,312.20 L445.45,312.29 L446.06,313.99 L446.66,315.55 L447.27,315.29 L447.87,316.27 L448.47,316.31 L449.08,315.31 L449.68,315.50 L450.29,315.07 L450.89,315.56 L451.49,315.55 L452.10,316.30 L452.70,317.72 L453.30,320.13 L453.91,321.95 L454.51,322.40 L455.12,323.76 L455.72,324.29 L456.32,324.36 L456.93,325.15 L457.53,324.97 L458.14,325.16 L458.74,325.57 L459.34,325.58 L459.95,325.94 L460.55,325.53 L461.15,325.57 L461.76,325.76 L462.36,326.18 L462.97,327.05 L463.57,327.63 L464.17,327.88 L464.78,328.83 L465.38,329.52 L465.99,329.80 L466.59,329.58 L467.19,329.56 L467.80,329.80 L468.40,330.40 L469.00,330.67 L469.61,331.25 L470.21,331.63 L470.82,331.25 L471.42,331.66 L472.02,331.61 L472.63,332.38 L473.23,333.18 L473.84,333.68 L474.44,334.39 L475.04,334.84 L475.65,335.23 L476.25,335.84 L476.86,335.60 L477.46,335.62 L478.06,335.23 L478.67,335.41 L479.27,334.87 L479.87,335.16 L480.48,335.23 L481.08,335.16 L481.69,335.23 L482.29,335.59 L482.89,335.60 L483.50,335.34 L484.10,335.84 L484.71,335.67 L485.31,336.08 L485.91,336.44 L486.52,336.56 L487.12,336.81 L487.72,336.80 L488.33,336.62 L488.93,336.44 L489.54,336.19 L490.14,336.20 L490.74,336.62 L491.35,336.68 L491.95,336.73 L492.56,337.05 L493.52,336.80 L493.70,336.80 L493.70,337.65Z" fill="#ffff55"/>
<path d="M275.60,337.65 L276.00,337.65 L276.81,337.64 L277.61,337.64 L278.42,337.64 L279.22,337.62 L280.03,337.62 L280.84,337.61 L281.64,337.61 L282.45,337.59 L283.25,337.58 L284.06,337.58 L284.87,337.59 L285.67,337.55 L286.48,337.59 L287.28,337.60 L288.09,337.58 L288.90,337.55 L289.70,337.52 L290.51,337.56 L291.31,337.52 L292.12,337.56 L292.93,337.58 L293.73,337.46 L294.54,337.50 L295.34,337.51 L296.15,337.48 L296.96,337.55 L297.76,337.43 L298.57,337.51 L299.37,337.41 L300.18,337.52 L300.99,337.47 L301.79,337.49 L302.60,337.43 L303.40,337.53 L304.21,337.52 L305.01,337.47 L305.82,337.52 L306.63,337.36 L307.43,337.50 L308.24,337.45 L309.04,337.40 L309.85,337.49 L310.66,337.29 L311.46,337.44 L312.27,337.37 L313.07,337.45 L313.88,337.43 L314.69,337.33 L315.49,337.30 L316.30,337.27 L317.10,337.22 L317.91,337.22 L318.72,337.35 L319.52,337.47 L320.33,337.42 L321.13,337.20 L321.94,337.16 L322.75,337.29 L323.55,337.45 L324.36,337.37 L325.16,337.21 L325.97,337.38 L326.78,337.36 L327.58,337.29 L328.39,337.19 L329.19,337.17 L330.00,337.25 L330.83,337.22 L331.67,337.17 L332.50,337.02 L333.33,336.97 L334.17,336.54 L335.00,337.11 L335.83,336.82 L336.67,336.80 L337.50,336.57 L338.33,336.13 L339.17,336.09 L340.00,336.35 L340.83,336.22 L341.67,336.52 L342.50,336.26 L343.33,336.03 L344.17,336.32 L345.00,335.94 L345.83,336.93 L346.67,336.41 L347.50,335.96 L348.33,336.37 L349.17,336.11 L350.00,336.45 L350.81,336.61 L351.62,335.92 L352.44,336.79 L353.25,336.42 L354.06,336.17 L354.88,335.93 L355.69,336.53 L356.50,336.14 L357.31,336.29 L358.12,336.19 L358.94,336.07 L359.75,336.52 L360.56,336.61 L361.38,336.15 L362.19,336.60 L363.00,336.45 L364.00,336.96 L365.00,337.06 L366.00,337.05 L366.81,337.06 L367.62,337.05 L368.44,337.22 L369.25,336.81 L370.06,337.24 L370.88,336.89 L371.69,337.13 L372.50,336.86 L373.31,336.85 L374.12,337.20 L374.94,337.31 L375.75,337.03 L376.56,336.85 L377.38,336.88 L378.19,336.96 L379.00,337.17 L379.81,336.78 L380.62,337.12 L381.44,336.95 L382.25,336.97 L383.06,337.13 L383.88,336.93 L384.69,336.95 L385.50,336.86 L386.31,337.11 L387.12,337.15 L387.94,337.23 L388.75,337.11 L389.56,336.89 L390.38,336.91 L391.19,337.22 L392.00,337.04 L392.81,337.31 L393.62,336.92 L394.44,337.04 L395.25,336.84 L396.06,336.91 L396.88,337.14 L397.69,337.04 L398.50,337.29 L399.31,336.92 L400.12,337.22 L400.94,337.23 L401.75,337.24 L402.56,336.94 L403.38,337.22 L404.19,337.12 L405.00,337.05 L405.83,336.95 L406.67,337.03 L407.50,336.65 L408.33,336.31 L409.17,336.90 L410.00,336.55 L410.82,336.30 L411.64,336.65 L412.45,336.11 L413.27,336.20 L414.09,336.56 L414.91,336.20 L415.73,336.74 L416.55,337.00 L417.36,336.49 L418.18,337.00 L419.00,336.28 L419.82,336.39 L420.64,336.11 L421.45,336.88 L422.27,336.85 L423.09,336.44 L423.91,336.64 L424.73,336.77 L425.55,336.85 L426.36,336.92 L427.18,336.50 L428.00,336.45 L429.00,336.27 L430.00,334.83 L431.00,334.45 L432.00,335.35 L433.00,333.34 L434.00,334.05 L435.00,334.96 L436.00,335.44 L437.00,334.45 L438.00,333.78 L439.00,333.85 L440.00,332.74 L441.00,333.40 L442.00,334.65 L443.00,336.38 L444.00,336.15 L444.86,336.60 L445.71,336.65 L446.57,336.01 L447.43,336.53 L448.29,336.97 L449.14,337.02 L450.00,336.75 L450.81,336.55 L451.62,336.41 L452.43,336.67 L453.24,336.52 L454.05,336.88 L454.86,336.62 L455.67,336.71 L456.48,336.62 L457.29,336.72 L458.10,336.72 L458.90,337.17 L459.71,337.11 L460.52,336.74 L461.33,337.12 L462.14,337.16 L462.95,337.22 L463.76,337.13 L464.57,337.12 L465.38,336.80 L466.19,336.83 L467.00,336.95 L467.81,337.10 L468.62,337.26 L469.44,336.76 L470.25,337.18 L471.06,336.96 L471.88,336.97 L472.69,337.04 L473.50,337.29 L474.31,337.25 L475.12,337.13 L475.94,337.38 L476.75,337.12 L477.56,337.35 L478.38,337.15 L479.19,337.21 L480.00,337.35 L480.84,337.26 L481.68,337.29 L482.51,337.50 L483.35,337.46 L484.19,337.39 L485.02,337.39 L485.86,337.38 L486.70,337.54 L487.54,337.40 L488.38,337.45 L489.21,337.48 L490.05,337.45 L490.89,337.45 L491.72,337.53 L492.56,337.55 L493.40,337.55 L493.70,337.65Z" fill="#55ff55"/>
<text x="280.50" y="204.60" font-family="Liberation Sans, sans-serif" font-size="5.3" font-weight="bold" fill="#1a1a1a" stroke="#1a1a1a" stroke-width="0.14" textLength="38.7" lengthAdjust="spacingAndGlyphs">Ride-pooling s8</text>
<text x="280.50" y="212.70" font-family="Liberation Sans, sans-serif" font-size="5.3" font-weight="bold" fill="#1a1a1a" stroke="#1a1a1a" stroke-width="0.14" textLength="73" lengthAdjust="spacingAndGlyphs">400 TNC Veh (Max WT 5 min)</text>
<g font-family="Liberation Sans, sans-serif" font-size="2.3" fill="#555" text-anchor="end">
<text transform="translate(264.60,338.45) rotate(0.03) scale(1.2,1)">0</text>
<text transform="translate(264.60,334.96) rotate(0.03) scale(1.2,1)">10</text>
<text transform="translate(264.60,331.47) rotate(0.03) scale(1.2,1)">20</text>
<text transform="translate(264.60,327.98) rotate(0.03) scale(1.2,1)">30</text>
<text transform="translate(264.60,324.50) rotate(0.03) scale(1.2,1)">40</text>
<text transform="translate(264.60,321.01) rotate(0.03) scale(1.2,1)">50</text>
<text transform="translate(264.60,317.52) rotate(0.03) scale(1.2,1)">60</text>
<text transform="translate(264.60,314.03) rotate(0.03) scale(1.2,1)">70</text>
<text transform="translate(264.60,310.54) rotate(0.03) scale(1.2,1)">80</text>
<text transform="translate(264.60,307.05) rotate(0.03) scale(1.2,1)">90</text>
<text transform="translate(264.60,303.56) rotate(0.03) scale(1.2,1)">100</text>
<text transform="translate(264.60,300.07) rotate(0.03) scale(1.2,1)">110</text>
<text transform="translate(264.60,296.58) rotate(0.03) scale(1.2,1)">120</text>
<text transform="translate(264.60,293.10) rotate(0.03) scale(1.2,1)">130</text>
<text transform="translate(264.60,289.61) rotate(0.03) scale(1.2,1)">140</text>
<text transform="translate(264.60,286.12) rotate(0.03) scale(1.2,1)">150</text>
<text transform="translate(264.60,282.63) rotate(0.03) scale(1.2,1)">160</text>
<text transform="translate(264.60,279.14) rotate(0.03) scale(1.2,1)">170</text>
<text transform="translate(264.60,275.65) rotate(0.03) scale(1.2,1)">180</text>
<text transform="translate(264.60,272.16) rotate(0.03) scale(1.2,1)">190</text>
<text transform="translate(264.60,268.68) rotate(0.03) scale(1.2,1)">200</text>
<text transform="translate(264.60,265.19) rotate(0.03) scale(1.2,1)">210</text>
<text transform="translate(264.60,261.70) rotate(0.03) scale(1.2,1)">220</text>
<text transform="translate(264.60,258.21) rotate(0.03) scale(1.2,1)">230</text>
<text transform="translate(264.60,254.72) rotate(0.03) scale(1.2,1)">240</text>
<text transform="translate(264.60,251.23) rotate(0.03) scale(1.2,1)">250</text>
<text transform="translate(264.60,247.74) rotate(0.03) scale(1.2,1)">260</text>
<text transform="translate(264.60,244.25) rotate(0.03) scale(1.2,1)">270</text>
<text transform="translate(264.60,240.76) rotate(0.03) scale(1.2,1)">280</text>
<text transform="translate(264.60,237.28) rotate(0.03) scale(1.2,1)">290</text>
<text transform="translate(264.60,233.79) rotate(0.03) scale(1.2,1)">300</text>
<text transform="translate(264.60,230.30) rotate(0.03) scale(1.2,1)">310</text>
<text transform="translate(264.60,226.81) rotate(0.03) scale(1.2,1)">320</text>
<text transform="translate(264.60,223.32) rotate(0.03) scale(1.2,1)">330</text>
<text transform="translate(264.60,219.83) rotate(0.03) scale(1.2,1)">340</text>
<text transform="translate(264.60,216.34) rotate(0.03) scale(1.2,1)">350</text>
<text transform="translate(264.60,212.86) rotate(0.03) scale(1.2,1)">360</text>
<text transform="translate(264.60,209.37) rotate(0.03) scale(1.2,1)">370</text>
<text transform="translate(264.60,205.88) rotate(0.03) scale(1.2,1)">380</text>
<text transform="translate(264.60,202.39) rotate(0.03) scale(1.2,1)">390</text>
<text transform="translate(264.60,198.90) rotate(0.03) scale(1.2,1)">400</text>
<text transform="translate(264.60,195.41) rotate(0.03) scale(1.2,1)">410</text>
<text transform="translate(264.60,191.92) rotate(0.03) scale(1.2,1)">420</text>
</g>
<path d="M266.40,337.65h-0.9M266.40,334.16h-0.9M266.40,330.67h-0.9M266.40,327.18h-0.9M266.40,323.69h-0.9M266.40,320.21h-0.9M266.40,316.72h-0.9M266.40,313.23h-0.9M266.40,309.74h-0.9M266.40,306.25h-0.9M266.40,302.76h-0.9M266.40,299.27h-0.9M266.40,295.78h-0.9M266.40,292.30h-0.9M266.40,288.81h-0.9M266.40,285.32h-0.9M266.40,281.83h-0.9M266.40,278.34h-0.9M266.40,274.85h-0.9M266.40,271.36h-0.9M266.40,267.88h-0.9M266.40,264.39h-0.9M266.40,260.90h-0.9M266.40,257.41h-0.9M266.40,253.92h-0.9M266.40,250.43h-0.9M266.40,246.94h-0.9M266.40,243.45h-0.9M266.40,239.96h-0.9M266.40,236.48h-0.9M266.40,232.99h-0.9M266.40,229.50h-0.9M266.40,226.01h-0.9M266.40,222.52h-0.9M266.40,219.03h-0.9M266.40,215.54h-0.9M266.40,212.06h-0.9M266.40,208.57h-0.9M266.40,205.08h-0.9M266.40,201.59h-0.9M266.40,198.10h-0.9M266.40,194.61h-0.9M266.40,191.12h-0.9" stroke="#c8c8c8" stroke-width="0.35" fill="none"/>
<text transform="translate(258.85,268.57) rotate(-90)" font-family="Liberation Sans, sans-serif" font-size="5.1" fill="#222" stroke="#222" stroke-width="0.08" text-anchor="middle" textLength="48.5" lengthAdjust="spacingAndGlyphs">Number of TNC Vehicles</text>
<g font-family="Liberation Sans, sans-serif" font-size="2.2" fill="#555" text-anchor="middle">
<text transform="translate(266.50,340.95) rotate(0.03) scale(1.3,1)">0</text>
<text transform="translate(276.02,340.95) rotate(0.03) scale(1.3,1)">1</text>
<text transform="translate(285.54,340.95) rotate(0.03) scale(1.3,1)">2</text>
<text transform="translate(295.06,340.95) rotate(0.03) scale(1.3,1)">3</text>
<text transform="translate(304.58,340.95) rotate(0.03) scale(1.3,1)">4</text>
<text transform="translate(314.10,340.95) rotate(0.03) scale(1.3,1)">5</text>
<text transform="translate(323.62,340.95) rotate(0.03) scale(1.3,1)">6</text>
<text transform="translate(333.14,340.95) rotate(0.03) scale(1.3,1)">7</text>
<text transform="translate(342.66,340.95) rotate(0.03) scale(1.3,1)">8</text>
<text transform="translate(352.18,340.95) rotate(0.03) scale(1.3,1)">9</text>
<text transform="translate(361.70,340.95) rotate(0.03) scale(1.3,1)">10</text>
<text transform="translate(371.22,340.95) rotate(0.03) scale(1.3,1)">11</text>
<text transform="translate(380.74,340.95) rotate(0.03) scale(1.3,1)">12</text>
<text transform="translate(390.26,340.95) rotate(0.03) scale(1.3,1)">13</text>
<text transform="translate(399.78,340.95) rotate(0.03) scale(1.3,1)">14</text>
<text transform="translate(409.30,340.95) rotate(0.03) scale(1.3,1)">15</text>
<text transform="translate(418.82,340.95) rotate(0.03) scale(1.3,1)">16</text>
<text transform="translate(428.34,340.95) rotate(0.03) scale(1.3,1)">17</text>
<text transform="translate(437.86,340.95) rotate(0.03) scale(1.3,1)">18</text>
<text transform="translate(447.38,340.95) rotate(0.03) scale(1.3,1)">19</text>
<text transform="translate(456.90,340.95) rotate(0.03) scale(1.3,1)">20</text>
<text transform="translate(466.42,340.95) rotate(0.03) scale(1.3,1)">21</text>
<text transform="translate(475.94,340.95) rotate(0.03) scale(1.3,1)">22</text>
<text transform="translate(485.46,340.95) rotate(0.03) scale(1.3,1)">23</text>
</g>
<path d="M266.12,337.95v0.8M275.60,337.95v0.8M285.08,337.95v0.8M294.57,337.95v0.8M304.05,337.95v0.8M313.53,337.95v0.8M323.01,337.95v0.8M332.50,337.95v0.8M341.98,337.95v0.8M351.46,337.95v0.8M360.94,337.95v0.8M370.43,337.95v0.8M379.91,337.95v0.8M389.39,337.95v0.8M398.87,337.95v0.8M408.36,337.95v0.8M417.84,337.95v0.8M427.32,337.95v0.8M436.80,337.95v0.8M446.29,337.95v0.8M455.77,337.95v0.8M465.25,337.95v0.8M474.73,337.95v0.8M484.22,337.95v0.8M493.70,337.95v0.8" stroke="#c8c8c8" stroke-width="0.35" fill="none"/>
<text x="385.80" y="344.85" font-family="Liberation Sans, sans-serif" font-size="4.2" font-weight="bold" fill="#111" stroke="#111" stroke-width="0.12" text-anchor="middle" textLength="18.4" lengthAdjust="spacingAndGlyphs">Time [h]</text>
<rect x="287.70" y="347.05" width="6.90" height="2.2" rx="0.7" fill="#ff5555"/>
<text x="297.10" y="349.40" font-family="Liberation Sans, sans-serif" font-size="3.5" fill="#111" stroke="#111" stroke-width="0.12" textLength="22.2" lengthAdjust="spacingAndGlyphs">4 Passengers</text>
<rect x="321.90" y="347.05" width="7.10" height="2.2" rx="0.7" fill="#5555ff"/>
<text x="331.40" y="349.40" font-family="Liberation Sans, sans-serif" font-size="3.5" fill="#111" stroke="#111" stroke-width="0.12" textLength="22.1" lengthAdjust="spacingAndGlyphs">3 Passengers</text>
<rect x="355.90" y="347.05" width="6.70" height="2.2" rx="0.7" fill="#55ff55"/>
<text x="364.80" y="349.40" font-family="Liberation Sans, sans-serif" font-size="3.5" fill="#111" stroke="#111" stroke-width="0.12" textLength="22.2" lengthAdjust="spacingAndGlyphs">2 Passengers</text>
<rect x="389.70" y="347.05" width="7.40" height="2.2" rx="0.7" fill="#ffff55"/>
<text x="399.60" y="349.40" font-family="Liberation Sans, sans-serif" font-size="3.5" fill="#111" stroke="#111" stroke-width="0.12" textLength="20.1" lengthAdjust="spacingAndGlyphs">1 Passenger</text>
<rect x="422.30" y="347.05" width="7.10" height="2.2" rx="0.7" fill="#ff55ff"/>
<text x="431.40" y="349.40" font-family="Liberation Sans, sans-serif" font-size="3.5" fill="#111" stroke="#111" stroke-width="0.12" textLength="22.5" lengthAdjust="spacingAndGlyphs">0 Passengers</text>
<rect x="458.60" y="347.05" width="6.00" height="2.2" rx="0.7" fill="#c0c0c0"/>
<text x="466.60" y="349.40" font-family="Liberation Sans, sans-serif" font-size="3.5" fill="#111" stroke="#111" stroke-width="0.12" textLength="7.0" lengthAdjust="spacingAndGlyphs">Stay</text>
<text font-family="Liberation Serif, serif" font-size="11.3" fill="#111" stroke="#111" stroke-width="0.28" text-anchor="middle" transform="translate(373.40,363.05) scale(0.9,1)">(d)</text>
</g>
<g>
<text x="131.70" y="372.85" font-family="Liberation Sans, sans-serif" font-size="5.2" font-weight="bold" fill="#1a1a1a" stroke="#1a1a1a" stroke-width="0.18" text-anchor="middle" textLength="30.2" lengthAdjust="spacingAndGlyphs">Time Profile</text>
<path d="M15.30,520.55 V374.30" fill="none" stroke="#cfcfcf" stroke-width="0.8"/>
<path d="M15.30,374.30 H242.60" fill="none" stroke="#dadada" stroke-width="0.8"/>
<path d="M15.30,520.85 H242.60" fill="none" stroke="#d0d0d0" stroke-width="0.7"/>
<rect x="24.50" y="381.20" width="218.10" height="139.35" fill="#c0c0c0"/>
<path d="M24.50,520.55 L24.59,520.19 L25.31,519.86 L26.04,519.58 L26.64,519.55 L27.25,519.34 L27.85,519.28 L28.45,519.10 L29.06,519.13 L29.66,519.34 L30.27,519.49 L30.87,519.58 L31.47,519.44 L32.08,519.34 L32.68,519.17 L33.29,518.86 L33.89,518.65 L34.49,518.38 L35.10,518.32 L35.70,518.13 L36.30,518.46 L36.91,518.38 L37.51,518.65 L38.12,518.74 L38.72,518.85 L39.32,519.10 L39.93,519.15 L40.53,519.34 L41.14,519.35 L41.74,519.10 L42.34,518.93 L42.95,518.86 L43.55,518.64 L44.15,518.74 L44.76,518.68 L45.36,518.50 L45.97,518.65 L46.57,518.38 L47.17,518.63 L47.78,518.62 L48.38,518.90 L48.99,518.86 L49.59,518.86 L50.19,519.10 L50.80,518.93 L51.40,518.86 L52.00,518.73 L52.61,518.62 L53.21,518.71 L53.82,518.38 L54.42,518.31 L55.02,518.13 L55.63,517.88 L56.23,518.13 L56.84,518.26 L57.44,518.38 L58.04,518.51 L58.65,518.62 L59.25,518.66 L59.86,518.38 L60.46,518.03 L61.06,518.13 L61.67,518.16 L62.27,517.89 L62.87,517.59 L63.48,517.17 L64.08,517.32 L64.69,516.69 L65.29,516.14 L65.89,516.20 L66.50,516.89 L67.10,516.69 L67.71,516.60 L68.31,516.93 L68.91,516.25 L69.52,515.96 L70.12,515.83 L70.72,515.12 L71.33,514.36 L71.93,514.27 L72.54,514.03 L73.14,513.55 L73.74,513.18 L74.35,513.06 L75.00,513.91 L75.60,513.44 L76.21,512.10 L76.81,511.79 L77.42,511.49 L78.02,511.36 L78.62,511.85 L79.23,511.79 L79.83,511.13 L80.43,510.36 L81.04,509.68 L81.64,509.45 L82.25,508.47 L82.85,507.73 L83.45,507.87 L84.06,507.65 L84.66,508.23 L85.27,507.56 L85.87,507.26 L86.47,506.76 L87.08,506.66 L87.68,505.20 L88.29,504.25 L88.89,503.05 L89.49,501.83 L90.10,500.59 L90.70,499.41 L91.30,499.37 L91.91,498.57 L92.51,499.06 L93.12,499.05 L93.72,499.19 L94.32,498.81 L94.93,498.83 L95.53,499.41 L96.14,500.23 L96.74,500.62 L97.34,500.75 L97.95,500.02 L98.55,499.34 L99.15,498.21 L99.76,497.51 L100.36,497.60 L100.97,497.87 L101.57,499.05 L102.17,499.85 L102.78,500.62 L103.38,501.16 L103.99,501.83 L104.59,502.09 L105.19,502.43 L105.80,502.69 L106.40,503.04 L107.00,503.10 L107.61,503.64 L108.21,503.36 L108.82,503.40 L109.42,502.73 L110.02,503.04 L110.63,503.12 L111.23,503.64 L111.84,504.47 L112.44,506.06 L113.04,506.57 L113.65,507.26 L114.25,507.00 L114.86,506.66 L115.46,507.04 L116.06,507.02 L116.67,506.34 L117.27,506.66 L117.87,506.36 L118.48,505.45 L119.08,504.85 L119.69,504.85 L120.29,505.54 L120.89,505.82 L121.50,505.86 L122.10,505.45 L122.71,504.61 L123.31,504.61 L123.91,504.63 L124.52,505.45 L125.12,506.19 L125.72,506.66 L126.33,505.42 L126.93,504.61 L127.54,504.17 L128.14,504.25 L128.74,505.33 L129.35,505.45 L130.00,504.61 L130.60,505.04 L131.21,504.85 L131.81,505.36 L132.42,505.45 L133.02,506.11 L133.62,506.06 L134.23,505.86 L134.83,504.85 L135.43,504.69 L136.04,504.25 L136.64,505.13 L137.25,505.45 L137.85,505.36 L138.45,504.85 L139.06,504.70 L139.66,504.61 L140.27,504.48 L140.87,504.25 L141.47,504.87 L142.08,505.09 L142.68,504.69 L143.29,504.85 L143.89,505.24 L144.49,505.09 L145.10,505.36 L145.70,504.85 L146.30,504.68 L146.91,504.61 L147.51,504.72 L148.12,505.09 L148.72,504.71 L149.32,504.61 L149.93,504.12 L150.53,504.25 L151.14,504.89 L151.74,504.61 L152.34,505.19 L152.95,504.85 L153.55,504.37 L154.15,504.25 L154.76,503.55 L155.36,502.43 L155.97,501.22 L156.57,500.62 L157.17,499.68 L157.78,499.41 L158.38,499.89 L158.99,499.78 L159.59,499.16 L160.19,499.41 L160.80,498.52 L161.40,498.21 L162.00,498.02 L162.61,497.36 L163.21,496.38 L163.82,496.40 L164.42,496.90 L165.02,496.64 L165.63,496.63 L166.23,495.79 L166.84,495.62 L167.44,495.19 L168.04,494.51 L168.65,494.22 L169.25,494.41 L169.86,493.74 L170.46,492.72 L171.06,492.17 L171.67,490.86 L172.27,489.75 L172.87,488.71 L173.48,487.94 L174.08,487.34 L174.69,486.13 L175.29,485.19 L175.89,484.32 L176.50,483.79 L177.10,482.51 L177.71,481.44 L178.31,480.69 L178.91,479.73 L179.52,479.73 L180.12,480.32 L180.72,480.09 L181.33,480.54 L181.93,480.45 L182.54,480.58 L183.14,480.09 L183.74,480.30 L184.35,479.73 L185.00,479.73 L185.60,479.37 L186.21,478.88 L186.81,478.84 L187.42,478.28 L188.02,477.84 L188.62,478.04 L189.23,478.06 L189.83,478.88 L190.43,480.19 L191.04,481.90 L191.64,483.85 L192.25,485.53 L192.85,486.55 L193.45,487.94 L194.06,488.73 L194.66,488.55 L195.27,487.94 L195.87,486.98 L196.47,486.88 L197.08,486.73 L197.68,488.39 L198.29,489.75 L198.89,492.00 L199.49,493.38 L200.10,493.68 L200.70,494.58 L201.30,493.52 L201.91,492.17 L202.51,494.29 L203.12,495.79 L203.72,496.85 L204.32,498.21 L204.93,498.99 L205.53,499.41 L206.14,499.55 L206.74,500.62 L207.34,501.02 L207.95,501.23 L208.55,501.19 L209.15,500.62 L209.76,501.22 L210.36,501.23 L210.97,502.18 L211.57,502.43 L212.17,503.62 L212.78,504.85 L213.38,505.68 L213.99,506.66 L214.59,507.64 L215.19,507.87 L215.80,508.05 L216.40,508.47 L217.00,509.21 L217.61,509.44 L218.21,509.78 L218.82,510.28 L219.42,510.87 L220.02,511.13 L220.63,510.40 L221.23,510.65 L221.84,510.94 L222.44,511.49 L223.04,512.00 L223.65,512.70 L224.25,513.05 L224.86,513.91 L225.46,514.31 L226.06,515.12 L226.67,515.34 L227.27,515.96 L227.87,516.50 L228.48,516.69 L229.08,516.87 L229.69,516.93 L230.29,516.92 L230.89,516.32 L231.50,516.16 L232.10,515.96 L232.71,515.91 L233.31,515.72 L233.91,515.51 L234.52,515.96 L235.12,516.04 L235.72,516.32 L236.33,516.76 L236.93,516.69 L237.54,516.63 L238.14,517.17 L238.74,517.21 L239.35,516.69 L239.95,516.47 L240.56,515.48 L241.16,514.97 L241.76,514.51 L242.60,514.27 L242.60,514.27 L242.60,520.55Z" fill="#ff55ff"/>
<path d="M24.50,520.55 L24.59,520.43 L25.31,520.28 L26.04,520.07 L26.64,520.04 L27.25,519.95 L27.85,519.82 L28.45,519.83 L29.06,519.74 L29.66,519.95 L30.27,519.96 L30.87,520.07 L31.47,519.93 L32.08,519.95 L32.68,519.79 L33.29,519.58 L33.89,519.51 L34.49,519.34 L35.10,519.29 L35.70,519.10 L36.30,519.49 L36.91,519.34 L37.51,519.45 L38.12,519.58 L38.72,519.59 L39.32,519.83 L39.93,519.77 L40.53,519.95 L41.14,519.99 L41.74,519.83 L42.34,519.86 L42.95,519.70 L43.55,519.48 L44.15,519.58 L44.76,519.66 L45.36,519.34 L45.97,519.64 L46.57,519.34 L47.17,519.57 L47.78,519.46 L48.38,519.69 L48.99,519.70 L49.59,519.64 L50.19,519.83 L50.80,519.62 L51.40,519.70 L52.00,519.73 L52.61,519.46 L53.21,519.67 L53.82,519.34 L54.42,519.20 L55.02,519.10 L55.63,519.09 L56.23,519.10 L56.84,519.17 L57.44,519.34 L58.04,519.49 L58.65,519.46 L59.25,519.39 L59.86,519.34 L60.46,519.20 L61.06,519.10 L61.67,519.07 L62.27,518.86 L62.87,518.57 L63.48,518.38 L64.08,518.46 L64.69,517.89 L65.29,517.48 L65.89,517.53 L66.50,517.77 L67.10,517.89 L67.71,518.14 L68.31,518.13 L68.91,517.66 L69.52,517.41 L70.12,516.96 L70.72,516.69 L71.33,515.80 L71.93,515.96 L72.54,515.31 L73.14,515.12 L73.74,514.90 L74.35,514.75 L75.00,515.48 L75.60,515.05 L76.21,513.55 L76.81,513.61 L77.42,513.06 L78.02,512.93 L78.62,513.30 L79.23,513.11 L79.83,512.70 L80.43,512.18 L81.04,511.49 L81.64,510.81 L82.25,510.28 L82.85,509.54 L83.45,509.68 L84.06,509.87 L84.66,509.92 L85.27,509.08 L85.87,509.08 L86.47,508.48 L87.08,508.47 L87.68,507.07 L88.29,506.66 L88.89,505.41 L89.49,504.25 L90.10,502.87 L90.70,501.83 L91.30,501.84 L91.91,501.23 L92.51,501.30 L93.12,501.47 L93.72,501.40 L94.32,501.47 L94.93,501.95 L95.53,502.19 L96.14,502.60 L96.74,503.04 L97.34,502.99 L97.95,502.68 L98.55,502.36 L99.15,501.23 L99.76,501.08 L100.36,500.98 L100.97,501.26 L101.57,502.19 L102.17,502.77 L102.78,503.40 L103.38,504.12 L103.99,504.25 L104.59,504.79 L105.19,505.09 L105.80,505.11 L106.40,505.82 L107.00,505.93 L107.61,506.30 L108.21,506.06 L108.82,506.06 L109.42,505.88 L110.02,505.82 L110.63,506.35 L111.23,506.66 L111.84,507.35 L112.44,508.71 L113.04,508.80 L113.65,509.68 L114.25,509.66 L114.86,509.44 L115.46,509.75 L116.06,509.68 L116.67,509.09 L117.27,509.44 L117.87,509.11 L118.48,508.23 L119.08,507.87 L119.69,507.87 L120.29,508.66 L120.89,508.71 L121.50,508.84 L122.10,508.47 L122.71,507.79 L123.31,507.87 L123.91,507.78 L124.52,508.71 L125.12,509.05 L125.72,509.44 L126.33,508.76 L126.93,507.87 L127.54,507.89 L128.14,507.87 L128.74,508.87 L129.35,508.71 L130.00,508.23 L130.60,508.26 L131.21,508.47 L131.81,508.80 L132.42,509.08 L133.02,509.36 L133.62,509.44 L134.23,508.89 L134.83,508.47 L135.43,508.11 L136.04,508.23 L136.64,509.01 L137.25,509.08 L137.85,509.25 L138.45,508.71 L139.06,508.24 L139.66,508.47 L140.27,508.62 L140.87,508.23 L141.47,508.60 L142.08,508.71 L142.68,508.70 L143.29,508.47 L143.89,508.67 L144.49,508.47 L145.10,508.84 L145.70,508.23 L146.30,507.86 L146.91,507.87 L147.51,507.88 L148.12,508.47 L148.72,508.41 L149.32,508.23 L149.93,507.56 L150.53,507.87 L151.14,508.02 L151.74,508.23 L152.34,508.78 L152.95,508.23 L153.55,507.92 L154.15,507.26 L154.76,506.48 L155.36,506.06 L155.97,505.26 L156.57,504.61 L157.17,504.33 L157.78,503.88 L158.38,503.65 L158.99,503.64 L159.59,503.42 L160.19,503.04 L160.80,502.21 L161.40,502.19 L162.00,502.01 L162.61,501.47 L163.21,501.23 L163.82,500.98 L164.42,500.87 L165.02,500.62 L165.63,500.56 L166.23,500.02 L166.84,500.09 L167.44,499.41 L168.04,499.22 L168.65,498.81 L169.25,499.06 L169.86,498.21 L170.46,496.88 L171.06,496.40 L171.67,495.17 L172.27,493.38 L172.87,492.44 L173.48,491.56 L174.08,491.25 L174.69,490.36 L175.29,489.40 L175.89,489.15 L176.50,488.64 L177.10,487.94 L177.71,487.23 L178.31,486.13 L178.91,485.39 L179.52,485.28 L180.12,485.23 L180.72,484.92 L181.33,485.14 L181.93,485.28 L182.54,485.93 L183.14,485.53 L183.74,485.67 L184.35,485.28 L185.00,485.28 L185.60,484.99 L186.21,484.32 L186.81,484.36 L187.42,483.71 L188.02,483.23 L188.62,483.35 L189.23,483.67 L189.83,484.32 L190.43,485.65 L191.04,486.73 L191.64,488.11 L192.25,489.75 L192.85,490.64 L193.45,491.56 L194.06,492.03 L194.66,491.81 L195.27,490.85 L195.87,490.36 L196.47,490.58 L197.08,490.12 L197.68,491.64 L198.29,493.38 L198.89,495.28 L199.49,497.00 L200.10,497.04 L200.70,497.84 L201.30,497.21 L201.91,495.79 L202.51,497.55 L203.12,499.05 L203.72,499.94 L204.32,501.23 L204.93,502.08 L205.53,502.43 L206.14,502.98 L206.74,503.40 L207.34,503.36 L207.95,503.88 L208.55,503.49 L209.15,503.40 L209.76,504.04 L210.36,503.88 L210.97,504.27 L211.57,504.85 L212.17,506.01 L212.78,507.02 L213.38,507.49 L213.99,508.47 L214.59,509.42 L215.19,509.44 L215.80,509.47 L216.40,510.28 L217.00,510.61 L217.61,511.13 L218.21,511.40 L218.82,511.85 L219.42,511.98 L220.02,512.34 L220.63,511.65 L221.23,512.10 L221.84,512.08 L222.44,512.70 L223.04,513.28 L223.65,513.91 L224.25,514.52 L224.86,515.12 L225.46,515.59 L226.06,516.32 L226.67,516.72 L227.27,516.93 L227.87,517.29 L228.48,517.53 L229.08,518.06 L229.69,517.89 L230.29,517.78 L230.89,517.17 L231.50,517.05 L232.10,516.93 L232.71,516.57 L233.31,516.69 L233.91,516.67 L234.52,516.93 L235.12,516.85 L235.72,517.17 L236.33,517.63 L236.93,517.53 L237.54,517.73 L238.14,518.13 L238.74,518.42 L239.35,517.89 L239.95,517.46 L240.56,516.69 L241.16,516.24 L241.76,515.72 L242.60,515.48 L242.60,515.48 L242.60,520.55Z" fill="#ffff55"/>
<path d="M24.50,520.55 L24.60,520.25 L90.00,520.15 L93.00,519.55 L100.00,519.75 L104.00,520.15 L242.60,520.25 L242.60,520.55Z" fill="#55ff55" opacity="0.8"/>
<text x="29.40" y="387.70" font-family="Liberation Sans, sans-serif" font-size="5.3" font-weight="bold" fill="#1a1a1a" stroke="#1a1a1a" stroke-width="0.14" textLength="42.8" lengthAdjust="spacingAndGlyphs">Ride-pooling d2d</text>
<text x="29.40" y="395.80" font-family="Liberation Sans, sans-serif" font-size="5.3" font-weight="bold" fill="#1a1a1a" stroke="#1a1a1a" stroke-width="0.14" textLength="73" lengthAdjust="spacingAndGlyphs">800 TNC Veh (Max WT 5 min)</text>
<g font-family="Liberation Sans, sans-serif" font-size="2.3" fill="#555" text-anchor="end">
<text transform="translate(13.50,521.35) rotate(0.03) scale(1.2,1)">0</text>
<text transform="translate(13.50,517.87) rotate(0.03) scale(1.2,1)">20</text>
<text transform="translate(13.50,514.38) rotate(0.03) scale(1.2,1)">40</text>
<text transform="translate(13.50,510.90) rotate(0.03) scale(1.2,1)">60</text>
<text transform="translate(13.50,507.41) rotate(0.03) scale(1.2,1)">80</text>
<text transform="translate(13.50,503.93) rotate(0.03) scale(1.2,1)">100</text>
<text transform="translate(13.50,500.45) rotate(0.03) scale(1.2,1)">120</text>
<text transform="translate(13.50,496.96) rotate(0.03) scale(1.2,1)">140</text>
<text transform="translate(13.50,493.48) rotate(0.03) scale(1.2,1)">160</text>
<text transform="translate(13.50,490.00) rotate(0.03) scale(1.2,1)">180</text>
<text transform="translate(13.50,486.51) rotate(0.03) scale(1.2,1)">200</text>
<text transform="translate(13.50,483.03) rotate(0.03) scale(1.2,1)">220</text>
<text transform="translate(13.50,479.54) rotate(0.03) scale(1.2,1)">240</text>
<text transform="translate(13.50,476.06) rotate(0.03) scale(1.2,1)">260</text>
<text transform="translate(13.50,472.58) rotate(0.03) scale(1.2,1)">280</text>
<text transform="translate(13.50,469.09) rotate(0.03) scale(1.2,1)">300</text>
<text transform="translate(13.50,465.61) rotate(0.03) scale(1.2,1)">320</text>
<text transform="translate(13.50,462.13) rotate(0.03) scale(1.2,1)">340</text>
<text transform="translate(13.50,458.64) rotate(0.03) scale(1.2,1)">360</text>
<text transform="translate(13.50,455.16) rotate(0.03) scale(1.2,1)">380</text>
<text transform="translate(13.50,451.68) rotate(0.03) scale(1.2,1)">400</text>
<text transform="translate(13.50,448.19) rotate(0.03) scale(1.2,1)">420</text>
<text transform="translate(13.50,444.71) rotate(0.03) scale(1.2,1)">440</text>
<text transform="translate(13.50,441.22) rotate(0.03) scale(1.2,1)">460</text>
<text transform="translate(13.50,437.74) rotate(0.03) scale(1.2,1)">480</text>
<text transform="translate(13.50,434.26) rotate(0.03) scale(1.2,1)">500</text>
<text transform="translate(13.50,430.77) rotate(0.03) scale(1.2,1)">520</text>
<text transform="translate(13.50,427.29) rotate(0.03) scale(1.2,1)">540</text>
<text transform="translate(13.50,423.81) rotate(0.03) scale(1.2,1)">560</text>
<text transform="translate(13.50,420.32) rotate(0.03) scale(1.2,1)">580</text>
<text transform="translate(13.50,416.84) rotate(0.03) scale(1.2,1)">600</text>
<text transform="translate(13.50,413.35) rotate(0.03) scale(1.2,1)">620</text>
<text transform="translate(13.50,409.87) rotate(0.03) scale(1.2,1)">640</text>
<text transform="translate(13.50,406.39) rotate(0.03) scale(1.2,1)">660</text>
<text transform="translate(13.50,402.90) rotate(0.03) scale(1.2,1)">680</text>
<text transform="translate(13.50,399.42) rotate(0.03) scale(1.2,1)">700</text>
<text transform="translate(13.50,395.94) rotate(0.03) scale(1.2,1)">720</text>
<text transform="translate(13.50,392.45) rotate(0.03) scale(1.2,1)">740</text>
<text transform="translate(13.50,388.97) rotate(0.03) scale(1.2,1)">760</text>
<text transform="translate(13.50,385.48) rotate(0.03) scale(1.2,1)">780</text>
<text transform="translate(13.50,382.00) rotate(0.03) scale(1.2,1)">800</text>
<text transform="translate(13.50,378.52) rotate(0.03) scale(1.2,1)">820</text>
<text transform="translate(13.50,375.03) rotate(0.03) scale(1.2,1)">840</text>
</g>
<path d="M15.30,520.55h-0.9M15.30,517.07h-0.9M15.30,513.58h-0.9M15.30,510.10h-0.9M15.30,506.61h-0.9M15.30,503.13h-0.9M15.30,499.65h-0.9M15.30,496.16h-0.9M15.30,492.68h-0.9M15.30,489.20h-0.9M15.30,485.71h-0.9M15.30,482.23h-0.9M15.30,478.74h-0.9M15.30,475.26h-0.9M15.30,471.78h-0.9M15.30,468.29h-0.9M15.30,464.81h-0.9M15.30,461.33h-0.9M15.30,457.84h-0.9M15.30,454.36h-0.9M15.30,450.88h-0.9M15.30,447.39h-0.9M15.30,443.91h-0.9M15.30,440.42h-0.9M15.30,436.94h-0.9M15.30,433.46h-0.9M15.30,429.97h-0.9M15.30,426.49h-0.9M15.30,423.00h-0.9M15.30,419.52h-0.9M15.30,416.04h-0.9M15.30,412.55h-0.9M15.30,409.07h-0.9M15.30,405.59h-0.9M15.30,402.10h-0.9M15.30,398.62h-0.9M15.30,395.13h-0.9M15.30,391.65h-0.9M15.30,388.17h-0.9M15.30,384.68h-0.9M15.30,381.20h-0.9M15.30,377.72h-0.9M15.30,374.23h-0.9" stroke="#c8c8c8" stroke-width="0.35" fill="none"/>
<text transform="translate(7.75,451.57) rotate(-90)" font-family="Liberation Sans, sans-serif" font-size="5.1" fill="#222" stroke="#222" stroke-width="0.08" text-anchor="middle" textLength="48.5" lengthAdjust="spacingAndGlyphs">Number of TNC Vehicles</text>
<g font-family="Liberation Sans, sans-serif" font-size="2.2" fill="#555" text-anchor="middle">
<text transform="translate(15.40,523.85) rotate(0.03) scale(1.3,1)">0</text>
<text transform="translate(24.92,523.85) rotate(0.03) scale(1.3,1)">1</text>
<text transform="translate(34.44,523.85) rotate(0.03) scale(1.3,1)">2</text>
<text transform="translate(43.96,523.85) rotate(0.03) scale(1.3,1)">3</text>
<text transform="translate(53.48,523.85) rotate(0.03) scale(1.3,1)">4</text>
<text transform="translate(63.00,523.85) rotate(0.03) scale(1.3,1)">5</text>
<text transform="translate(72.52,523.85) rotate(0.03) scale(1.3,1)">6</text>
<text transform="translate(82.04,523.85) rotate(0.03) scale(1.3,1)">7</text>
<text transform="translate(91.56,523.85) rotate(0.03) scale(1.3,1)">8</text>
<text transform="translate(101.08,523.85) rotate(0.03) scale(1.3,1)">9</text>
<text transform="translate(110.60,523.85) rotate(0.03) scale(1.3,1)">10</text>
<text transform="translate(120.12,523.85) rotate(0.03) scale(1.3,1)">11</text>
<text transform="translate(129.64,523.85) rotate(0.03) scale(1.3,1)">12</text>
<text transform="translate(139.16,523.85) rotate(0.03) scale(1.3,1)">13</text>
<text transform="translate(148.68,523.85) rotate(0.03) scale(1.3,1)">14</text>
<text transform="translate(158.20,523.85) rotate(0.03) scale(1.3,1)">15</text>
<text transform="translate(167.72,523.85) rotate(0.03) scale(1.3,1)">16</text>
<text transform="translate(177.24,523.85) rotate(0.03) scale(1.3,1)">17</text>
<text transform="translate(186.76,523.85) rotate(0.03) scale(1.3,1)">18</text>
<text transform="translate(196.28,523.85) rotate(0.03) scale(1.3,1)">19</text>
<text transform="translate(205.80,523.85) rotate(0.03) scale(1.3,1)">20</text>
<text transform="translate(215.32,523.85) rotate(0.03) scale(1.3,1)">21</text>
<text transform="translate(224.84,523.85) rotate(0.03) scale(1.3,1)">22</text>
<text transform="translate(234.36,523.85) rotate(0.03) scale(1.3,1)">23</text>
</g>
<path d="M15.02,520.85v0.8M24.50,520.85v0.8M33.98,520.85v0.8M43.47,520.85v0.8M52.95,520.85v0.8M62.43,520.85v0.8M71.91,520.85v0.8M81.40,520.85v0.8M90.88,520.85v0.8M100.36,520.85v0.8M109.84,520.85v0.8M119.33,520.85v0.8M128.81,520.85v0.8M138.29,520.85v0.8M147.77,520.85v0.8M157.26,520.85v0.8M166.74,520.85v0.8M176.22,520.85v0.8M185.70,520.85v0.8M195.19,520.85v0.8M204.67,520.85v0.8M214.15,520.85v0.8M223.63,520.85v0.8M233.12,520.85v0.8M242.60,520.85v0.8" stroke="#c8c8c8" stroke-width="0.35" fill="none"/>
<text x="134.70" y="527.75" font-family="Liberation Sans, sans-serif" font-size="4.2" font-weight="bold" fill="#111" stroke="#111" stroke-width="0.12" text-anchor="middle" textLength="18.4" lengthAdjust="spacingAndGlyphs">Time [h]</text>
<rect x="36.60" y="529.95" width="6.90" height="2.2" rx="0.7" fill="#ff5555"/>
<text x="46.00" y="532.30" font-family="Liberation Sans, sans-serif" font-size="3.5" fill="#111" stroke="#111" stroke-width="0.12" textLength="22.2" lengthAdjust="spacingAndGlyphs">4 Passengers</text>
<rect x="70.80" y="529.95" width="7.10" height="2.2" rx="0.7" fill="#5555ff"/>
<text x="80.30" y="532.30" font-family="Liberation Sans, sans-serif" font-size="3.5" fill="#111" stroke="#111" stroke-width="0.12" textLength="22.1" lengthAdjust="spacingAndGlyphs">3 Passengers</text>
<rect x="104.80" y="529.95" width="6.70" height="2.2" rx="0.7" fill="#55ff55"/>
<text x="113.70" y="532.30" font-family="Liberation Sans, sans-serif" font-size="3.5" fill="#111" stroke="#111" stroke-width="0.12" textLength="22.2" lengthAdjust="spacingAndGlyphs">2 Passengers</text>
<rect x="138.60" y="529.95" width="7.40" height="2.2" rx="0.7" fill="#ffff55"/>
<text x="148.50" y="532.30" font-family="Liberation Sans, sans-serif" font-size="3.5" fill="#111" stroke="#111" stroke-width="0.12" textLength="20.1" lengthAdjust="spacingAndGlyphs">1 Passenger</text>
<rect x="171.20" y="529.95" width="7.10" height="2.2" rx="0.7" fill="#ff55ff"/>
<text x="180.30" y="532.30" font-family="Liberation Sans, sans-serif" font-size="3.5" fill="#111" stroke="#111" stroke-width="0.12" textLength="22.5" lengthAdjust="spacingAndGlyphs">0 Passengers</text>
<rect x="207.50" y="529.95" width="6.00" height="2.2" rx="0.7" fill="#c0c0c0"/>
<text x="215.50" y="532.30" font-family="Liberation Sans, sans-serif" font-size="3.5" fill="#111" stroke="#111" stroke-width="0.12" textLength="7.0" lengthAdjust="spacingAndGlyphs">Stay</text>
<text font-family="Liberation Serif, serif" font-size="11.3" fill="#111" stroke="#111" stroke-width="0.28" text-anchor="middle" transform="translate(122.30,545.95) scale(0.9,1)">(e)</text>
</g>
<g>
<text x="382.80" y="372.85" font-family="Liberation Sans, sans-serif" font-size="5.2" font-weight="bold" fill="#1a1a1a" stroke="#1a1a1a" stroke-width="0.18" text-anchor="middle" textLength="30.2" lengthAdjust="spacingAndGlyphs">Time Profile</text>
<path d="M266.40,520.55 V374.30" fill="none" stroke="#cfcfcf" stroke-width="0.8"/>
<path d="M266.40,374.30 H493.70" fill="none" stroke="#dadada" stroke-width="0.8"/>
<path d="M266.40,520.85 H493.70" fill="none" stroke="#d0d0d0" stroke-width="0.7"/>
<rect x="275.60" y="381.20" width="218.10" height="139.35" fill="#c0c0c0"/>
<path d="M275.60,520.55 L275.60,519.83 L275.96,519.75 L276.54,519.83 L277.12,519.74 L277.70,519.79 L278.28,519.79 L278.86,519.85 L279.44,519.90 L280.02,519.87 L280.60,519.84 L281.18,519.91 L281.76,519.74 L282.34,519.83 L282.92,519.89 L283.50,519.76 L284.08,519.83 L284.65,519.89 L285.23,519.87 L285.80,519.77 L286.38,519.78 L286.95,519.77 L287.53,519.74 L288.10,519.85 L288.68,519.76 L289.25,519.76 L289.83,519.78 L290.40,519.89 L290.98,519.78 L291.55,519.76 L292.13,519.90 L292.70,519.75 L293.28,519.90 L293.85,519.89 L294.43,519.74 L295.00,519.80 L295.58,519.76 L296.15,519.83 L296.73,519.78 L297.30,519.81 L297.88,519.89 L298.46,519.83 L299.03,519.88 L299.61,519.76 L300.18,519.74 L300.76,519.74 L301.33,519.82 L301.91,519.91 L302.48,519.91 L303.06,519.84 L303.63,519.90 L304.21,519.79 L304.78,519.81 L305.36,519.78 L305.93,519.78 L306.51,519.82 L307.08,519.89 L307.66,519.82 L308.23,519.83 L308.84,519.82 L309.44,519.81 L310.04,519.75 L310.65,519.77 L311.25,519.76 L311.86,519.83 L312.46,519.77 L313.06,519.86 L313.67,519.83 L314.27,519.83 L314.87,519.70 L315.48,519.58 L316.08,519.56 L316.69,519.48 L317.29,519.51 L317.89,519.34 L318.50,519.36 L319.10,519.28 L319.71,519.07 L320.31,519.10 L320.91,518.93 L321.52,519.12 L322.12,518.93 L322.72,518.86 L323.33,518.68 L323.93,518.56 L324.54,518.65 L325.14,518.38 L325.76,518.61 L326.38,518.11 L327.00,518.38 L327.60,518.39 L328.21,518.13 L328.81,518.05 L329.42,517.89 L330.02,517.83 L330.62,517.17 L331.23,516.74 L331.83,516.69 L332.43,516.13 L333.04,515.72 L333.64,514.75 L334.25,514.51 L334.85,514.37 L335.45,513.55 L336.06,513.38 L336.66,512.70 L337.27,512.64 L337.87,511.85 L338.47,511.33 L339.08,511.49 L339.68,511.21 L340.29,511.49 L340.89,510.98 L341.49,510.89 L342.10,510.10 L342.70,509.92 L343.30,509.73 L343.91,509.68 L344.51,510.11 L345.12,510.28 L345.72,509.96 L346.32,509.92 L346.93,510.28 L347.53,510.28 L348.14,510.49 L348.74,510.89 L349.34,510.68 L349.95,510.28 L350.55,509.95 L351.15,509.44 L351.76,509.67 L352.36,509.68 L352.97,509.98 L353.57,511.13 L354.17,511.32 L354.78,511.85 L355.38,511.20 L355.99,511.49 L356.59,511.86 L357.19,512.10 L357.80,512.12 L358.40,511.49 L359.00,511.84 L359.61,512.70 L360.21,512.26 L360.82,511.85 L361.42,511.26 L362.02,511.49 L362.63,513.18 L363.23,514.51 L363.84,514.54 L364.44,515.12 L365.04,515.35 L365.65,515.12 L366.25,515.04 L366.86,514.75 L367.46,514.67 L368.06,513.91 L368.67,513.42 L369.27,513.30 L369.87,513.01 L370.48,513.55 L371.08,513.39 L371.69,513.91 L372.29,514.81 L372.89,514.75 L373.50,515.33 L374.10,515.12 L374.71,515.43 L375.31,514.75 L375.91,513.54 L376.52,513.30 L377.12,512.55 L377.72,512.70 L378.33,513.72 L378.93,513.91 L379.54,513.39 L380.14,513.30 L380.74,514.08 L381.35,513.91 L382.00,514.27 L382.60,514.34 L383.21,513.91 L383.81,514.09 L384.42,513.55 L385.02,513.08 L385.62,513.06 L386.23,513.74 L386.83,513.55 L387.43,513.72 L388.04,513.91 L388.64,513.88 L389.25,513.30 L389.85,512.75 L390.45,512.70 L391.06,512.64 L391.66,513.06 L392.27,512.38 L392.87,512.70 L393.47,512.82 L394.08,513.55 L394.68,513.98 L395.29,514.27 L395.89,514.84 L396.49,514.51 L397.10,514.34 L397.70,514.27 L398.30,514.09 L398.91,514.75 L399.51,514.71 L400.12,514.51 L400.72,514.55 L401.32,513.91 L401.93,514.01 L402.53,514.27 L403.14,514.54 L403.74,513.91 L404.34,513.29 L404.95,513.55 L405.55,513.16 L406.15,513.30 L406.76,513.06 L407.36,512.70 L407.97,512.45 L408.57,512.10 L409.17,511.50 L409.78,511.49 L410.38,510.88 L410.99,510.28 L411.59,510.26 L412.19,510.65 L412.80,509.97 L413.40,509.92 L414.00,509.97 L414.61,510.28 L415.21,509.84 L415.82,509.44 L416.42,508.64 L417.02,508.47 L417.63,508.41 L418.23,507.87 L418.84,507.38 L419.44,507.26 L420.04,506.40 L420.65,505.45 L421.25,505.24 L421.86,505.09 L422.46,503.88 L423.06,503.64 L423.67,502.87 L424.27,501.83 L424.87,501.86 L425.48,501.23 L426.08,500.49 L426.69,500.62 L427.29,500.63 L427.89,500.02 L428.50,499.37 L429.10,498.81 L429.71,498.36 L430.31,498.21 L430.91,498.44 L431.52,498.81 L432.12,498.77 L432.72,498.57 L433.33,498.52 L433.93,498.21 L434.54,497.73 L435.14,497.84 L435.74,497.88 L436.35,498.21 L437.00,497.84 L437.60,497.91 L438.21,497.36 L438.81,498.86 L439.42,500.02 L440.02,500.02 L440.62,500.62 L441.23,501.30 L441.83,501.83 L442.43,502.54 L443.04,503.04 L443.64,503.52 L444.25,504.85 L444.85,505.65 L445.45,506.66 L446.06,506.62 L446.66,507.51 L447.27,507.52 L447.87,507.87 L448.47,508.37 L449.08,508.23 L449.68,508.43 L450.29,507.87 L450.89,508.58 L451.49,508.47 L452.10,508.76 L452.70,509.68 L453.30,509.76 L453.91,510.65 L454.51,511.01 L455.12,511.13 L455.72,511.76 L456.32,511.85 L456.93,511.63 L457.53,512.34 L458.14,512.72 L458.74,512.70 L459.34,512.82 L459.95,513.06 L460.55,513.08 L461.15,513.91 L461.76,514.41 L462.36,514.75 L462.97,515.33 L463.57,515.48 L464.17,515.88 L464.78,515.96 L465.38,516.25 L465.99,515.72 L466.59,515.61 L467.19,515.48 L467.80,515.33 L468.40,515.96 L469.00,516.14 L469.61,516.32 L470.21,516.22 L470.82,516.69 L471.42,517.14 L472.02,517.17 L472.63,517.78 L473.23,518.13 L473.84,518.24 L474.44,518.74 L475.04,518.67 L475.65,518.86 L476.25,518.91 L476.86,518.74 L477.46,518.91 L478.06,518.86 L478.67,518.98 L479.27,518.74 L479.87,518.90 L480.48,518.86 L481.08,519.17 L481.69,519.10 L482.29,519.08 L482.89,519.10 L483.50,519.38 L484.10,519.34 L484.71,519.48 L485.31,519.58 L485.91,519.63 L486.52,519.70 L487.12,519.60 L487.72,519.58 L488.33,519.20 L488.93,519.10 L489.54,519.13 L490.14,518.86 L490.74,518.91 L491.35,519.10 L491.95,519.19 L492.56,519.34 L493.52,519.34 L493.70,519.34 L493.70,520.55Z" fill="#ff55ff"/>
<path d="M275.60,520.55 L275.60,520.19 L275.96,520.17 L276.54,520.24 L277.12,520.18 L277.70,520.16 L278.28,520.18 L278.86,520.21 L279.44,520.26 L280.02,520.18 L280.60,520.24 L281.18,520.26 L281.76,520.20 L282.34,520.16 L282.92,520.19 L283.50,520.10 L284.08,520.19 L284.65,520.17 L285.23,520.18 L285.80,520.15 L286.38,520.13 L286.95,520.18 L287.53,520.12 L288.10,520.25 L288.68,520.09 L289.25,520.13 L289.83,520.18 L290.40,520.17 L290.98,520.15 L291.55,520.19 L292.13,520.26 L292.70,520.16 L293.28,520.27 L293.85,520.18 L294.43,520.19 L295.00,520.21 L295.58,520.18 L296.15,520.19 L296.73,520.22 L297.30,520.19 L297.88,520.17 L298.46,520.16 L299.03,520.24 L299.61,520.14 L300.18,520.11 L300.76,520.15 L301.33,520.13 L301.91,520.23 L302.48,520.27 L303.06,520.23 L303.63,520.29 L304.21,520.12 L304.78,520.20 L305.36,520.22 L305.93,520.15 L306.51,520.17 L307.08,520.23 L307.66,520.19 L308.23,520.19 L308.84,520.20 L309.44,520.19 L310.04,520.17 L310.65,520.15 L311.25,520.11 L311.86,520.13 L312.46,520.20 L313.06,520.24 L313.67,520.19 L314.27,520.19 L314.87,520.07 L315.48,520.07 L316.08,519.99 L316.69,519.98 L317.29,519.99 L317.89,519.95 L318.50,519.92 L319.10,519.85 L319.71,519.90 L320.31,519.83 L320.91,519.71 L321.52,519.79 L322.12,519.60 L322.72,519.70 L323.33,519.68 L323.93,519.63 L324.54,519.67 L325.14,519.34 L325.76,519.49 L326.38,519.20 L327.00,519.34 L327.60,519.49 L328.21,519.10 L328.81,519.07 L329.42,518.86 L330.02,518.64 L330.62,518.38 L331.23,518.32 L331.83,517.89 L332.43,517.50 L333.04,517.17 L333.64,516.58 L334.25,515.96 L334.85,515.51 L335.45,515.12 L336.06,514.90 L336.66,514.27 L337.27,514.32 L337.87,513.55 L338.47,513.48 L339.08,513.30 L339.68,513.22 L340.29,513.06 L340.89,512.65 L341.49,512.70 L342.10,511.89 L342.70,511.85 L343.30,511.31 L343.91,511.49 L344.51,511.87 L345.12,511.85 L345.72,511.98 L346.32,511.85 L346.93,512.41 L347.53,512.10 L348.14,512.14 L348.74,512.34 L349.34,512.38 L349.95,512.10 L350.55,511.99 L351.15,511.49 L351.76,511.55 L352.36,511.49 L352.97,512.34 L353.57,513.06 L354.17,513.24 L354.78,513.55 L355.38,513.00 L355.99,513.30 L356.59,513.41 L357.19,513.91 L357.80,513.91 L358.40,513.30 L359.00,513.42 L359.61,514.51 L360.21,513.76 L360.82,513.55 L361.42,513.28 L362.02,513.91 L362.63,515.41 L363.23,516.32 L363.84,516.15 L364.44,516.69 L365.04,517.02 L365.65,516.69 L366.25,516.77 L366.86,516.44 L367.46,516.04 L368.06,515.72 L368.67,515.39 L369.27,515.12 L369.87,514.77 L370.48,515.12 L371.08,515.40 L371.69,515.72 L372.29,516.52 L372.89,516.32 L373.50,516.53 L374.10,516.69 L374.71,516.55 L375.31,516.32 L375.91,515.44 L376.52,515.12 L377.12,514.28 L377.72,514.51 L378.33,515.23 L378.93,515.72 L379.54,515.50 L380.14,515.12 L380.74,515.86 L381.35,515.48 L382.00,515.72 L382.60,515.42 L383.21,515.48 L383.81,515.66 L384.42,515.12 L385.02,514.70 L385.62,514.75 L386.23,515.38 L386.83,515.12 L387.43,515.47 L388.04,515.48 L388.64,515.27 L389.25,514.75 L389.85,514.14 L390.45,514.51 L391.06,514.59 L391.66,514.75 L392.27,514.07 L392.87,514.51 L393.47,514.56 L394.08,515.12 L394.68,515.24 L395.29,515.72 L395.89,515.98 L396.49,515.96 L397.10,516.01 L397.70,515.72 L398.30,515.46 L398.91,516.20 L399.51,516.02 L400.12,515.96 L400.72,516.00 L401.32,515.48 L401.93,515.39 L402.53,515.72 L403.14,516.07 L403.74,515.48 L404.34,515.32 L404.95,515.24 L405.55,514.72 L406.15,515.12 L406.76,515.17 L407.36,514.51 L407.97,514.23 L408.57,513.91 L409.17,513.58 L409.78,513.55 L410.38,513.04 L410.99,512.70 L411.59,512.40 L412.19,512.70 L412.80,512.03 L413.40,512.10 L414.00,511.96 L414.61,512.34 L415.21,512.12 L415.82,511.85 L416.42,511.38 L417.02,510.89 L417.63,510.47 L418.23,510.28 L418.84,509.94 L419.44,509.68 L420.04,509.20 L420.65,508.47 L421.25,508.32 L421.86,507.87 L422.46,506.73 L423.06,506.66 L423.67,506.11 L424.27,504.85 L424.87,504.92 L425.48,504.25 L426.08,503.76 L426.69,503.64 L427.29,503.75 L427.89,503.04 L428.50,502.35 L429.10,502.19 L429.71,501.95 L430.31,501.83 L430.91,501.98 L431.52,502.19 L432.12,501.72 L432.72,501.83 L433.33,501.51 L433.93,501.47 L434.54,501.17 L435.14,501.23 L435.74,501.12 L436.35,501.23 L437.00,501.23 L437.60,500.98 L438.21,500.62 L438.81,501.70 L439.42,502.43 L440.02,502.42 L440.62,503.04 L441.23,503.42 L441.83,504.25 L442.43,504.85 L443.04,505.45 L443.64,506.03 L444.25,507.02 L444.85,507.79 L445.45,508.47 L446.06,508.51 L446.66,509.08 L447.27,508.98 L447.87,509.44 L448.47,509.90 L449.08,509.68 L449.68,509.64 L450.29,509.44 L450.89,509.72 L451.49,509.92 L452.10,510.56 L452.70,511.13 L453.30,511.26 L453.91,511.85 L454.51,512.52 L455.12,512.34 L455.72,513.07 L456.32,513.06 L456.93,513.36 L457.53,513.55 L458.14,514.01 L458.74,513.91 L459.34,514.25 L459.95,514.27 L460.55,514.26 L461.15,515.12 L461.76,515.79 L462.36,515.72 L462.97,516.10 L463.57,516.44 L464.17,516.68 L464.78,516.93 L465.38,517.31 L465.99,516.69 L466.59,516.78 L467.19,516.44 L467.80,516.56 L468.40,516.93 L469.00,516.77 L469.61,517.17 L470.21,516.92 L470.82,517.53 L471.42,517.93 L472.02,518.13 L472.63,518.39 L473.23,518.86 L473.84,519.01 L474.44,519.34 L475.04,519.35 L475.65,519.46 L476.25,519.62 L476.86,519.34 L477.46,519.46 L478.06,519.46 L478.67,519.59 L479.27,519.34 L479.87,519.32 L480.48,519.46 L481.08,519.60 L481.69,519.58 L482.29,519.64 L482.89,519.58 L483.50,519.78 L484.10,519.83 L484.71,519.89 L485.31,519.95 L485.91,520.07 L486.52,520.07 L487.12,520.01 L487.72,519.95 L488.33,519.80 L488.93,519.70 L489.54,519.63 L490.14,519.58 L490.74,519.61 L491.35,519.70 L491.95,519.66 L492.56,519.83 L493.52,519.83 L493.70,519.83 L493.70,520.55Z" fill="#ffff55"/>
<path d="M275.60,520.55 L276.00,520.55 L276.81,520.54 L277.61,520.54 L278.42,520.54 L279.22,520.53 L280.03,520.54 L280.84,520.52 L281.64,520.52 L282.45,520.51 L283.25,520.52 L284.06,520.50 L284.87,520.50 L285.67,520.48 L286.48,520.52 L287.28,520.46 L288.09,520.50 L288.90,520.46 L289.70,520.47 L290.51,520.45 L291.31,520.49 L292.12,520.47 L292.93,520.49 L293.73,520.43 L294.54,520.44 L295.34,520.47 L296.15,520.47 L296.96,520.48 L297.76,520.46 L298.57,520.42 L299.37,520.43 L300.18,520.39 L300.99,520.46 L301.79,520.36 L302.60,520.34 L303.40,520.36 L304.21,520.36 L305.01,520.34 L305.82,520.44 L306.63,520.39 L307.43,520.44 L308.24,520.33 L309.04,520.36 L309.85,520.43 L310.66,520.37 L311.46,520.30 L312.27,520.34 L313.07,520.41 L313.88,520.26 L314.69,520.42 L315.49,520.26 L316.30,520.23 L317.10,520.27 L317.91,520.22 L318.72,520.31 L319.52,520.37 L320.33,520.31 L321.13,520.25 L321.94,520.23 L322.75,520.32 L323.55,520.18 L324.36,520.39 L325.16,520.28 L325.97,520.39 L326.78,520.30 L327.58,520.14 L328.39,520.36 L329.19,520.13 L330.00,520.25 L330.88,520.02 L331.75,519.99 L332.62,520.21 L333.50,519.92 L334.38,519.69 L335.25,520.03 L336.12,519.80 L337.00,519.55 L337.80,519.90 L338.60,519.19 L339.40,519.09 L340.20,519.06 L341.00,519.20 L341.80,519.35 L342.60,519.86 L343.40,519.41 L344.20,519.09 L345.00,519.35 L345.83,519.09 L346.67,519.88 L347.50,519.91 L348.33,519.84 L349.17,519.01 L350.00,519.83 L350.83,519.57 L351.67,519.51 L352.50,519.14 L353.33,519.86 L354.17,519.75 L355.00,519.55 L355.86,519.31 L356.71,519.92 L357.57,519.85 L358.43,519.98 L359.29,519.14 L360.14,519.79 L361.00,519.55 L362.00,519.72 L363.00,519.96 L364.00,520.05 L364.80,519.83 L365.61,519.95 L366.41,520.00 L367.22,520.05 L368.02,520.15 L368.82,519.88 L369.63,520.22 L370.43,519.98 L371.24,520.13 L372.04,520.14 L372.84,520.05 L373.65,520.17 L374.45,519.98 L375.25,520.23 L376.06,520.25 L376.86,520.19 L377.67,520.21 L378.47,519.83 L379.27,520.01 L380.08,519.92 L380.88,519.87 L381.69,520.17 L382.49,519.78 L383.29,520.06 L384.10,520.02 L384.90,520.00 L385.71,519.90 L386.51,519.86 L387.31,520.15 L388.12,519.83 L388.92,520.03 L389.73,520.11 L390.53,519.80 L391.33,519.79 L392.14,519.80 L392.94,520.07 L393.75,519.76 L394.55,519.83 L395.35,519.73 L396.16,519.84 L396.96,519.71 L397.76,519.98 L398.57,519.83 L399.37,519.82 L400.18,519.95 L400.98,519.96 L401.78,520.01 L402.59,519.76 L403.39,520.02 L404.20,519.82 L405.00,519.95 L405.83,519.90 L406.67,519.80 L407.50,520.01 L408.33,520.14 L409.17,519.76 L410.00,520.07 L410.83,519.92 L411.67,519.63 L412.50,520.10 L413.33,519.50 L414.17,519.70 L415.00,519.75 L415.82,519.69 L416.64,519.58 L417.45,520.04 L418.27,520.05 L419.09,519.48 L419.91,519.57 L420.73,519.51 L421.55,519.33 L422.36,519.79 L423.18,519.87 L424.00,519.55 L424.80,518.84 L425.60,519.70 L426.40,518.93 L427.20,518.55 L428.00,518.55 L428.83,517.64 L429.67,519.21 L430.50,517.95 L431.33,519.14 L432.17,518.31 L433.00,518.15 L433.80,518.07 L434.60,517.82 L435.40,519.41 L436.20,518.40 L437.00,518.95 L437.83,519.49 L438.67,519.18 L439.50,518.47 L440.33,518.71 L441.17,519.71 L442.00,519.25 L442.88,519.85 L443.75,519.84 L444.62,519.06 L445.50,519.88 L446.38,519.15 L447.25,519.18 L448.12,519.22 L449.00,519.55 L449.86,519.24 L450.71,519.56 L451.57,519.48 L452.43,519.75 L453.29,519.73 L454.14,520.15 L455.00,519.95 L455.82,519.93 L456.63,519.71 L457.45,520.03 L458.27,519.87 L459.09,520.15 L459.90,520.01 L460.72,519.99 L461.54,519.89 L462.35,520.11 L463.17,520.05 L463.99,520.18 L464.80,520.02 L465.62,519.87 L466.44,520.12 L467.26,520.01 L468.07,520.06 L468.89,520.22 L469.71,520.02 L470.52,520.23 L471.34,520.08 L472.16,519.94 L472.97,520.21 L473.79,520.08 L474.61,520.21 L475.43,520.11 L476.24,520.28 L477.06,520.18 L477.88,520.10 L478.69,520.29 L479.51,520.25 L480.33,520.30 L481.14,520.32 L481.96,520.18 L482.78,520.15 L483.60,520.24 L484.41,520.27 L485.23,520.32 L486.05,520.34 L486.86,520.18 L487.68,520.30 L488.50,520.26 L489.31,520.36 L490.13,520.38 L490.95,520.42 L491.77,520.37 L492.58,520.36 L493.40,520.35 L493.70,520.55Z" fill="#55ff55"/>
<text x="280.50" y="387.70" font-family="Liberation Sans, sans-serif" font-size="5.3" font-weight="bold" fill="#1a1a1a" stroke="#1a1a1a" stroke-width="0.14" textLength="38.7" lengthAdjust="spacingAndGlyphs">Ride-pooling s8</text>
<text x="280.50" y="395.80" font-family="Liberation Sans, sans-serif" font-size="5.3" font-weight="bold" fill="#1a1a1a" stroke="#1a1a1a" stroke-width="0.14" textLength="73" lengthAdjust="spacingAndGlyphs">800 TNC Veh (Max WT 5 min)</text>
<g font-family="Liberation Sans, sans-serif" font-size="2.3" fill="#555" text-anchor="end">
<text transform="translate(264.60,521.35) rotate(0.03) scale(1.2,1)">0</text>
<text transform="translate(264.60,517.87) rotate(0.03) scale(1.2,1)">20</text>
<text transform="translate(264.60,514.38) rotate(0.03) scale(1.2,1)">40</text>
<text transform="translate(264.60,510.90) rotate(0.03) scale(1.2,1)">60</text>
<text transform="translate(264.60,507.41) rotate(0.03) scale(1.2,1)">80</text>
<text transform="translate(264.60,503.93) rotate(0.03) scale(1.2,1)">100</text>
<text transform="translate(264.60,500.45) rotate(0.03) scale(1.2,1)">120</text>
<text transform="translate(264.60,496.96) rotate(0.03) scale(1.2,1)">140</text>
<text transform="translate(264.60,493.48) rotate(0.03) scale(1.2,1)">160</text>
<text transform="translate(264.60,490.00) rotate(0.03) scale(1.2,1)">180</text>
<text transform="translate(264.60,486.51) rotate(0.03) scale(1.2,1)">200</text>
<text transform="translate(264.60,483.03) rotate(0.03) scale(1.2,1)">220</text>
<text transform="translate(264.60,479.54) rotate(0.03) scale(1.2,1)">240</text>
<text transform="translate(264.60,476.06) rotate(0.03) scale(1.2,1)">260</text>
<text transform="translate(264.60,472.58) rotate(0.03) scale(1.2,1)">280</text>
<text transform="translate(264.60,469.09) rotate(0.03) scale(1.2,1)">300</text>
<text transform="translate(264.60,465.61) rotate(0.03) scale(1.2,1)">320</text>
<text transform="translate(264.60,462.13) rotate(0.03) scale(1.2,1)">340</text>
<text transform="translate(264.60,458.64) rotate(0.03) scale(1.2,1)">360</text>
<text transform="translate(264.60,455.16) rotate(0.03) scale(1.2,1)">380</text>
<text transform="translate(264.60,451.68) rotate(0.03) scale(1.2,1)">400</text>
<text transform="translate(264.60,448.19) rotate(0.03) scale(1.2,1)">420</text>
<text transform="translate(264.60,444.71) rotate(0.03) scale(1.2,1)">440</text>
<text transform="translate(264.60,441.22) rotate(0.03) scale(1.2,1)">460</text>
<text transform="translate(264.60,437.74) rotate(0.03) scale(1.2,1)">480</text>
<text transform="translate(264.60,434.26) rotate(0.03) scale(1.2,1)">500</text>
<text transform="translate(264.60,430.77) rotate(0.03) scale(1.2,1)">520</text>
<text transform="translate(264.60,427.29) rotate(0.03) scale(1.2,1)">540</text>
<text transform="translate(264.60,423.81) rotate(0.03) scale(1.2,1)">560</text>
<text transform="translate(264.60,420.32) rotate(0.03) scale(1.2,1)">580</text>
<text transform="translate(264.60,416.84) rotate(0.03) scale(1.2,1)">600</text>
<text transform="translate(264.60,413.35) rotate(0.03) scale(1.2,1)">620</text>
<text transform="translate(264.60,409.87) rotate(0.03) scale(1.2,1)">640</text>
<text transform="translate(264.60,406.39) rotate(0.03) scale(1.2,1)">660</text>
<text transform="translate(264.60,402.90) rotate(0.03) scale(1.2,1)">680</text>
<text transform="translate(264.60,399.42) rotate(0.03) scale(1.2,1)">700</text>
<text transform="translate(264.60,395.94) rotate(0.03) scale(1.2,1)">720</text>
<text transform="translate(264.60,392.45) rotate(0.03) scale(1.2,1)">740</text>
<text transform="translate(264.60,388.97) rotate(0.03) scale(1.2,1)">760</text>
<text transform="translate(264.60,385.48) rotate(0.03) scale(1.2,1)">780</text>
<text transform="translate(264.60,382.00) rotate(0.03) scale(1.2,1)">800</text>
<text transform="translate(264.60,378.52) rotate(0.03) scale(1.2,1)">820</text>
<text transform="translate(264.60,375.03) rotate(0.03) scale(1.2,1)">840</text>
</g>
<path d="M266.40,520.55h-0.9M266.40,517.07h-0.9M266.40,513.58h-0.9M266.40,510.10h-0.9M266.40,506.61h-0.9M266.40,503.13h-0.9M266.40,499.65h-0.9M266.40,496.16h-0.9M266.40,492.68h-0.9M266.40,489.20h-0.9M266.40,485.71h-0.9M266.40,482.23h-0.9M266.40,478.74h-0.9M266.40,475.26h-0.9M266.40,471.78h-0.9M266.40,468.29h-0.9M266.40,464.81h-0.9M266.40,461.33h-0.9M266.40,457.84h-0.9M266.40,454.36h-0.9M266.40,450.88h-0.9M266.40,447.39h-0.9M266.40,443.91h-0.9M266.40,440.42h-0.9M266.40,436.94h-0.9M266.40,433.46h-0.9M266.40,429.97h-0.9M266.40,426.49h-0.9M266.40,423.00h-0.9M266.40,419.52h-0.9M266.40,416.04h-0.9M266.40,412.55h-0.9M266.40,409.07h-0.9M266.40,405.59h-0.9M266.40,402.10h-0.9M266.40,398.62h-0.9M266.40,395.13h-0.9M266.40,391.65h-0.9M266.40,388.17h-0.9M266.40,384.68h-0.9M266.40,381.20h-0.9M266.40,377.72h-0.9M266.40,374.23h-0.9" stroke="#c8c8c8" stroke-width="0.35" fill="none"/>
<text transform="translate(258.85,451.57) rotate(-90)" font-family="Liberation Sans, sans-serif" font-size="5.1" fill="#222" stroke="#222" stroke-width="0.08" text-anchor="middle" textLength="48.5" lengthAdjust="spacingAndGlyphs">Number of TNC Vehicles</text>
<g font-family="Liberation Sans, sans-serif" font-size="2.2" fill="#555" text-anchor="middle">
<text transform="translate(266.50,523.85) rotate(0.03) scale(1.3,1)">0</text>
<text transform="translate(276.02,523.85) rotate(0.03) scale(1.3,1)">1</text>
<text transform="translate(285.54,523.85) rotate(0.03) scale(1.3,1)">2</text>
<text transform="translate(295.06,523.85) rotate(0.03) scale(1.3,1)">3</text>
<text transform="translate(304.58,523.85) rotate(0.03) scale(1.3,1)">4</text>
<text transform="translate(314.10,523.85) rotate(0.03) scale(1.3,1)">5</text>
<text transform="translate(323.62,523.85) rotate(0.03) scale(1.3,1)">6</text>
<text transform="translate(333.14,523.85) rotate(0.03) scale(1.3,1)">7</text>
<text transform="translate(342.66,523.85) rotate(0.03) scale(1.3,1)">8</text>
<text transform="translate(352.18,523.85) rotate(0.03) scale(1.3,1)">9</text>
<text transform="translate(361.70,523.85) rotate(0.03) scale(1.3,1)">10</text>
<text transform="translate(371.22,523.85) rotate(0.03) scale(1.3,1)">11</text>
<text transform="translate(380.74,523.85) rotate(0.03) scale(1.3,1)">12</text>
<text transform="translate(390.26,523.85) rotate(0.03) scale(1.3,1)">13</text>
<text transform="translate(399.78,523.85) rotate(0.03) scale(1.3,1)">14</text>
<text transform="translate(409.30,523.85) rotate(0.03) scale(1.3,1)">15</text>
<text transform="translate(418.82,523.85) rotate(0.03) scale(1.3,1)">16</text>
<text transform="translate(428.34,523.85) rotate(0.03) scale(1.3,1)">17</text>
<text transform="translate(437.86,523.85) rotate(0.03) scale(1.3,1)">18</text>
<text transform="translate(447.38,523.85) rotate(0.03) scale(1.3,1)">19</text>
<text transform="translate(456.90,523.85) rotate(0.03) scale(1.3,1)">20</text>
<text transform="translate(466.42,523.85) rotate(0.03) scale(1.3,1)">21</text>
<text transform="translate(475.94,523.85) rotate(0.03) scale(1.3,1)">22</text>
<text transform="translate(485.46,523.85) rotate(0.03) scale(1.3,1)">23</text>
</g>
<path d="M266.12,520.85v0.8M275.60,520.85v0.8M285.08,520.85v0.8M294.57,520.85v0.8M304.05,520.85v0.8M313.53,520.85v0.8M323.01,520.85v0.8M332.50,520.85v0.8M341.98,520.85v0.8M351.46,520.85v0.8M360.94,520.85v0.8M370.43,520.85v0.8M379.91,520.85v0.8M389.39,520.85v0.8M398.87,520.85v0.8M408.36,520.85v0.8M417.84,520.85v0.8M427.32,520.85v0.8M436.80,520.85v0.8M446.29,520.85v0.8M455.77,520.85v0.8M465.25,520.85v0.8M474.73,520.85v0.8M484.22,520.85v0.8M493.70,520.85v0.8" stroke="#c8c8c8" stroke-width="0.35" fill="none"/>
<text x="385.80" y="527.75" font-family="Liberation Sans, sans-serif" font-size="4.2" font-weight="bold" fill="#111" stroke="#111" stroke-width="0.12" text-anchor="middle" textLength="18.4" lengthAdjust="spacingAndGlyphs">Time [h]</text>
<rect x="287.70" y="529.95" width="6.90" height="2.2" rx="0.7" fill="#ff5555"/>
<text x="297.10" y="532.30" font-family="Liberation Sans, sans-serif" font-size="3.5" fill="#111" stroke="#111" stroke-width="0.12" textLength="22.2" lengthAdjust="spacingAndGlyphs">4 Passengers</text>
<rect x="321.90" y="529.95" width="7.10" height="2.2" rx="0.7" fill="#5555ff"/>
<text x="331.40" y="532.30" font-family="Liberation Sans, sans-serif" font-size="3.5" fill="#111" stroke="#111" stroke-width="0.12" textLength="22.1" lengthAdjust="spacingAndGlyphs">3 Passengers</text>
<rect x="355.90" y="529.95" width="6.70" height="2.2" rx="0.7" fill="#55ff55"/>
<text x="364.80" y="532.30" font-family="Liberation Sans, sans-serif" font-size="3.5" fill="#111" stroke="#111" stroke-width="0.12" textLength="22.2" lengthAdjust="spacingAndGlyphs">2 Passengers</text>
<rect x="389.70" y="529.95" width="7.40" height="2.2" rx="0.7" fill="#ffff55"/>
<text x="399.60" y="532.30" font-family="Liberation Sans, sans-serif" font-size="3.5" fill="#111" stroke="#111" stroke-width="0.12" textLength="20.1" lengthAdjust="spacingAndGlyphs">1 Passenger</text>
<rect x="422.30" y="529.95" width="7.10" height="2.2" rx="0.7" fill="#ff55ff"/>
<text x="431.40" y="532.30" font-family="Liberation Sans, sans-serif" font-size="3.5" fill="#111" stroke="#111" stroke-width="0.12" textLength="22.5" lengthAdjust="spacingAndGlyphs">0 Passengers</text>
<rect x="458.60" y="529.95" width="6.00" height="2.2" rx="0.7" fill="#c0c0c0"/>
<text x="466.60" y="532.30" font-family="Liberation Sans, sans-serif" font-size="3.5" fill="#111" stroke="#111" stroke-width="0.12" textLength="7.0" lengthAdjust="spacingAndGlyphs">Stay</text>
<text font-family="Liberation Serif, serif" font-size="11.3" fill="#111" stroke="#111" stroke-width="0.28" text-anchor="middle" transform="translate(373.40,545.95) scale(0.9,1)">(f)</text>
</g>
</g></svg></body></html>
